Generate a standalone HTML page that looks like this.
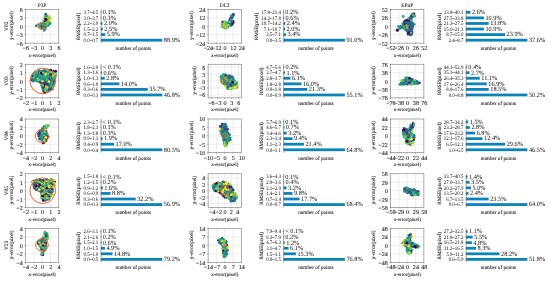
<!DOCTYPE html><html><head><meta charset="utf-8"><style>html,body{margin:0;padding:0;background:#fff;}svg{display:block} text{fill:#111;stroke:#111;stroke-width:0.07px} text.p{stroke-width:0.05px} text.q{stroke:#1a1a1a;stroke-width:0.03px;fill:#1a1a1a}</style></head><body>
<svg width="550" height="281" viewBox="0 0 550 281" font-family="'Liberation Serif', 'Times New Roman', serif" text-rendering="geometricPrecision">
<rect width="550" height="281" fill="#fff" stroke="none"/>
<path d="M33.83 9.4V43.1M25.5 17.83H58.8M42.15 9.4V43.1M25.5 26.25H58.8M50.47 9.4V43.1M25.5 34.68H58.8" stroke="#d9d9d9" stroke-width="0.45" fill="none"/>
<polygon points="43.8,15.71 47.33,15.31 50.08,16.1 51.41,18.06 51.1,21.2 50.63,24.33 48.9,26.29 46.55,27.86 44.98,26.69 43.41,24.33 43.25,20.41" fill="#6ece58"/><circle cx="46.94" cy="22.34" r="0.99" fill="#b5de2b"/><circle cx="47.4" cy="22.68" r="1" fill="#1f9e89"/><circle cx="48.39" cy="25.26" r="0.92" fill="#26828e"/><circle cx="48.91" cy="15.84" r="1.19" fill="#fde725"/><circle cx="48.59" cy="23.04" r="0.81" fill="#1f9e89"/><circle cx="47.56" cy="16.06" r="0.9" fill="#1f9e89"/><circle cx="43.5" cy="21.14" r="1.14" fill="#35b779"/><circle cx="47.49" cy="23.35" r="1.06" fill="#6ece58"/><circle cx="46.99" cy="18.8" r="1.2" fill="#fde725"/><circle cx="50.11" cy="24.2" r="0.89" fill="#35b779"/><circle cx="45.61" cy="16.19" r="0.96" fill="#6ece58"/><circle cx="50.16" cy="20.16" r="1.14" fill="#fde725"/><circle cx="50.68" cy="21.21" r="0.96" fill="#fde725"/><circle cx="43.85" cy="23.21" r="0.91" fill="#b5de2b"/><circle cx="43.97" cy="19.49" r="1.1" fill="#fde725"/><circle cx="44.22" cy="18.41" r="0.82" fill="#26828e"/><circle cx="49.76" cy="17.54" r="0.98" fill="#6ece58"/><circle cx="44.81" cy="24.5" r="1.06" fill="#26828e"/><circle cx="44.21" cy="20.59" r="0.91" fill="#1f9e89"/><circle cx="45.74" cy="26.42" r="0.96" fill="#1f9e89"/><circle cx="50.22" cy="23.37" r="1.2" fill="#26828e"/><circle cx="44.99" cy="18.55" r="0.93" fill="#6ece58"/><circle cx="45.67" cy="16.23" r="1.03" fill="#26828e"/><circle cx="45.24" cy="22.86" r="0.98" fill="#35b779"/><circle cx="47.94" cy="26.19" r="0.86" fill="#1f9e89"/><circle cx="45.29" cy="17.7" r="1.18" fill="#6ece58"/><polygon points="42.63,22.76 45.76,22.76 46.94,26.69 45.76,29.43 43.41,29.04 41.84,26.69" fill="#35b779"/><circle cx="46.34" cy="26.79" r="0.84" fill="#35b779"/><circle cx="43.06" cy="27.46" r="1.13" fill="#1f9e89"/><circle cx="44.88" cy="24.72" r="1.09" fill="#26828e"/><circle cx="44.69" cy="28.45" r="0.91" fill="#35b779"/><circle cx="44.12" cy="23.17" r="0.95" fill="#26828e"/><circle cx="44.76" cy="23.64" r="1.16" fill="#1f9e89"/><circle cx="45.37" cy="26.66" r="0.81" fill="#31688e"/><circle cx="45.42" cy="29.18" r="1.05" fill="#3e4989"/><circle cx="45.76" cy="14.29" r="1.49" fill="#31688e"/><circle cx="45.61" cy="15.86" r="0.94" fill="#26828e"/><circle cx="45.92" cy="19.47" r="1.73" fill="#440154"/><circle cx="44.98" cy="21.04" r="0.94" fill="#482878"/><circle cx="50.86" cy="17.67" r="0.86" fill="#fde725"/><circle cx="50.08" cy="23.55" r="1.1" fill="#1f9e89"/><polygon points="45.29,26.06 44.83,27.78 43.57,29.05 41.84,29.51 40.12,29.05 38.85,27.78 38.39,26.06 38.85,24.33 40.12,23.07 41.84,22.61 43.57,23.07 44.83,24.33" fill="#1f9e89"/><circle cx="41.72" cy="27.65" r="1.2" fill="#26828e"/><circle cx="38.91" cy="26.38" r="1.16" fill="#6ece58"/><circle cx="43.48" cy="27.46" r="1.17" fill="#6ece58"/><circle cx="40.82" cy="27.34" r="1.15" fill="#6ece58"/><circle cx="41.27" cy="28.06" r="1.03" fill="#6ece58"/><circle cx="42.71" cy="25.25" r="1.04" fill="#35b779"/><circle cx="38.95" cy="27.02" r="1.15" fill="#b5de2b"/><circle cx="43.42" cy="25.29" r="1.03" fill="#35b779"/><circle cx="41.43" cy="28.39" r="1.1" fill="#482878"/><circle cx="38.6" cy="26.76" r="0.89" fill="#1f9e89"/><circle cx="43.21" cy="26.04" r="1.17" fill="#35b779"/><circle cx="40.47" cy="27.29" r="0.87" fill="#31688e"/><circle cx="44.64" cy="27.16" r="1.16" fill="#1f9e89"/><circle cx="40.65" cy="27.2" r="0.97" fill="#31688e"/><circle cx="44.47" cy="25.26" r="0.93" fill="#35b779"/><circle cx="39.33" cy="26.03" r="1.14" fill="#6ece58"/><circle cx="40.3" cy="23.78" r="0.91" fill="#1f9e89"/><circle cx="39.87" cy="25.47" r="1" fill="#35b779"/><circle cx="40.57" cy="28.4" r="0.98" fill="#b5de2b"/><circle cx="43.28" cy="26.55" r="1.12" fill="#31688e"/><circle cx="41.69" cy="26.37" r="1.25" fill="#56499a"/><circle cx="36.35" cy="25.67" r="1.18" fill="#3e4989"/><circle cx="37.76" cy="24.33" r="1.02" fill="#35b779"/><circle cx="35.96" cy="26.69" r="0.78" fill="#26828e"/><circle cx="44.2" cy="30.45" r="1.18" fill="#26828e"/><circle cx="45.76" cy="29.04" r="0.94" fill="#35b779"/><circle cx="41.84" cy="25.9" r="3.53" fill="none" stroke="#ee5a22" stroke-width="0.9"/>
<rect x="25.5" y="9.4" width="33.3" height="33.7" fill="none" stroke="#5a5a5a" stroke-width="0.5"/>
<path d="M25.5 43.1v1M25.5 43.1h-1M33.83 43.1v1M25.5 34.67h-1M42.15 43.1v1M25.5 26.25h-1M50.47 43.1v1M25.5 17.82h-1M58.8 43.1v1M25.5 9.4h-1" stroke="#444" stroke-width="0.4"/>
<text x="25.8" y="50" font-size="6.1" text-anchor="middle">−6</text>
<text x="22.8" y="45.55" font-size="6.1" text-anchor="end">−6</text>
<text x="34.12" y="50" font-size="6.1" text-anchor="middle">−3</text>
<text x="22.8" y="37.12" font-size="6.1" text-anchor="end">−3</text>
<text x="42.45" y="50" font-size="6.1" text-anchor="middle">0</text>
<text x="22.8" y="28.7" font-size="6.1" text-anchor="end">0</text>
<text x="50.77" y="50" font-size="6.1" text-anchor="middle">3</text>
<text x="22.8" y="20.27" font-size="6.1" text-anchor="end">3</text>
<text x="59.1" y="50" font-size="6.1" text-anchor="middle">6</text>
<text x="22.8" y="11.85" font-size="6.1" text-anchor="end">6</text>
<text x="42.15" y="56.5" font-size="5" text-anchor="middle">x-error(pixel)</text>
<text transform="translate(13.1 25.65) rotate(-90)" font-size="5.25" text-anchor="middle">y-error(pixel)</text>
<text transform="translate(8 26.25) rotate(-90)" font-size="5.4" text-anchor="middle">V02</text>
<text x="42.15" y="7.2" font-size="5.4" text-anchor="middle">P3P</text>
<rect x="101.1" y="10.93" width="0.15" height="2.79" fill="#0a84bb"/>
<text class="q" x="102.67" y="14.17" font-size="6.5" textLength="13.12" lengthAdjust="spacingAndGlyphs">0.1%</text>
<text class="q" x="83.6" y="14.07" font-size="5.4" textLength="14.7" lengthAdjust="spacingAndGlyphs">3.7–4.5</text>
<path d="M101.1 12.32h-1" stroke="#444" stroke-width="0.4"/>
<rect x="101.1" y="16.5" width="0.21" height="2.79" fill="#0a84bb"/>
<text class="q" x="102.81" y="19.74" font-size="6.5" textLength="13.12" lengthAdjust="spacingAndGlyphs">0.3%</text>
<text class="q" x="83.6" y="19.64" font-size="5.4" textLength="14.7" lengthAdjust="spacingAndGlyphs">3.0–3.7</text>
<path d="M101.1 17.89h-1" stroke="#444" stroke-width="0.4"/>
<rect x="101.1" y="22.07" width="1.38" height="2.79" fill="#0a84bb"/>
<text class="q" x="103.98" y="25.31" font-size="6.5" textLength="13.12" lengthAdjust="spacingAndGlyphs">2.0%</text>
<text class="q" x="83.6" y="25.21" font-size="5.4" textLength="14.7" lengthAdjust="spacingAndGlyphs">2.2–3.0</text>
<path d="M101.1 23.46h-1" stroke="#444" stroke-width="0.4"/>
<rect x="101.1" y="27.64" width="1.72" height="2.79" fill="#0a84bb"/>
<text class="q" x="104.32" y="30.89" font-size="6.5" textLength="13.12" lengthAdjust="spacingAndGlyphs">2.5%</text>
<text class="q" x="83.6" y="30.79" font-size="5.4" textLength="14.7" lengthAdjust="spacingAndGlyphs">1.5–2.2</text>
<path d="M101.1 29.04h-1" stroke="#444" stroke-width="0.4"/>
<rect x="101.1" y="33.21" width="4.06" height="2.79" fill="#0a84bb"/>
<text class="q" x="106.66" y="36.46" font-size="6.5" textLength="13.12" lengthAdjust="spacingAndGlyphs">5.9%</text>
<text class="q" x="83.6" y="36.36" font-size="5.4" textLength="14.7" lengthAdjust="spacingAndGlyphs">0.7–1.5</text>
<path d="M101.1 34.61h-1" stroke="#444" stroke-width="0.4"/>
<rect x="101.1" y="38.78" width="61.2" height="2.79" fill="#0a84bb"/>
<text class="q" x="163.8" y="42.03" font-size="6.5" textLength="16.27" lengthAdjust="spacingAndGlyphs">88.9%</text>
<text class="q" x="83.6" y="41.93" font-size="5.4" textLength="14.7" lengthAdjust="spacingAndGlyphs">0.0–0.7</text>
<path d="M101.1 40.18h-1" stroke="#444" stroke-width="0.4"/>
<path d="M101.1 9.4V43.1" stroke="#444" stroke-width="0.5"/>
<text transform="translate(80.3 26.55) rotate(-90)" font-size="5.1" text-anchor="middle">RMSE(pixel)</text>
<text x="133.3" y="49.9" font-size="5.2" text-anchor="middle">number of points</text>
<path d="M216.42 9.4V43.1M208.1 17.83H241.4M224.75 9.4V43.1M208.1 26.25H241.4M233.07 9.4V43.1M208.1 34.68H241.4" stroke="#d9d9d9" stroke-width="0.45" fill="none"/>
<polygon points="232.03,12.98 234.93,13.84 234.33,16.65 232.37,18.95 230.66,20.91 228.62,20.91 229.64,18.1 231.17,15.29" fill="#26828e"/><circle cx="231.61" cy="18.2" r="0.86" fill="#1f9e89"/><circle cx="230.35" cy="19.41" r="1.04" fill="#1f9e89"/><circle cx="232.14" cy="18.23" r="0.98" fill="#3e4989"/><circle cx="229.64" cy="20.17" r="1.13" fill="#3e4989"/><circle cx="230.74" cy="16.19" r="0.81" fill="#35b779"/><circle cx="229" cy="20.24" r="0.84" fill="#26828e"/><circle cx="232.54" cy="14.28" r="0.82" fill="#1f9e89"/><circle cx="229.7" cy="19.45" r="0.97" fill="#26828e"/><circle cx="232.38" cy="16.76" r="0.81" fill="#26828e"/><circle cx="230.87" cy="15.86" r="1.07" fill="#1f9e89"/><circle cx="230.91" cy="17.04" r="1" fill="#35b779"/><circle cx="231.33" cy="17.1" r="0.97" fill="#31688e"/><circle cx="231.07" cy="19.1" r="1.02" fill="#3e4989"/><circle cx="229.74" cy="18.5" r="0.91" fill="#482878"/><circle cx="230.79" cy="18.03" r="0.98" fill="#482878"/><circle cx="229.67" cy="20.31" r="0.88" fill="#31688e"/><circle cx="233.48" cy="15.69" r="0.8" fill="#31688e"/><circle cx="230.65" cy="19.23" r="1.06" fill="#35b779"/><circle cx="233.48" cy="14.69" r="1.36" fill="#3e4989"/><polygon points="228.62,20.66 233.05,19.8 234.07,22.79 232.88,25.77 230.32,26.88 227.94,24.92" fill="#31688e"/><circle cx="229.34" cy="23.53" r="1.05" fill="#31688e"/><circle cx="233.42" cy="20.95" r="1.15" fill="#3e4989"/><circle cx="231.1" cy="24.73" r="0.89" fill="#1f9e89"/><circle cx="229.68" cy="21.61" r="1.08" fill="#1f9e89"/><circle cx="230.52" cy="21.51" r="1.19" fill="#31688e"/><circle cx="231.37" cy="24.22" r="1.18" fill="#35b779"/><circle cx="232.6" cy="22.76" r="1.16" fill="#26828e"/><circle cx="232.78" cy="23.91" r="0.95" fill="#31688e"/><circle cx="232.45" cy="23.79" r="1.08" fill="#440154"/><circle cx="231.22" cy="25.39" r="0.84" fill="#31688e"/><circle cx="230.1" cy="22.01" r="1.08" fill="#6ece58"/><circle cx="231.26" cy="24.21" r="1.01" fill="#482878"/><circle cx="232.24" cy="22.59" r="0.96" fill="#3e4989"/><circle cx="229.92" cy="24.65" r="0.84" fill="#482878"/><circle cx="229.85" cy="24.73" r="1.06" fill="#1f9e89"/><circle cx="233.67" cy="22.39" r="1" fill="#440154"/><circle cx="230.66" cy="21.07" r="0.94" fill="#1f9e89"/><circle cx="229.4" cy="22.12" r="0.8" fill="#6ece58"/><polygon points="221.29,22.79 222.39,20.66 225.55,20.4 228.36,21.94 228.79,25.35 227.94,28.93 225.8,29.61 222.82,28.58 220.94,26.2" fill="#35b779"/><circle cx="223.77" cy="22.98" r="0.97" fill="#26828e"/><circle cx="224.87" cy="26.83" r="0.99" fill="#26828e"/><circle cx="225.7" cy="28.16" r="0.98" fill="#1f9e89"/><circle cx="227.65" cy="28.06" r="1.02" fill="#26828e"/><circle cx="226.92" cy="24.04" r="1.07" fill="#6ece58"/><circle cx="228.57" cy="25.5" r="0.94" fill="#6ece58"/><circle cx="226.69" cy="23.37" r="0.94" fill="#6ece58"/><circle cx="223.35" cy="21.65" r="1.02" fill="#26828e"/><circle cx="222.92" cy="20.82" r="0.91" fill="#b5de2b"/><circle cx="228.29" cy="25.91" r="1.15" fill="#35b779"/><circle cx="227.98" cy="23.36" r="1.06" fill="#31688e"/><circle cx="227.55" cy="26" r="0.96" fill="#b5de2b"/><circle cx="225.79" cy="22.82" r="0.95" fill="#35b779"/><circle cx="223.96" cy="24.08" r="0.87" fill="#b5de2b"/><circle cx="222.55" cy="22.75" r="1.01" fill="#fde725"/><circle cx="227.8" cy="27.96" r="1.09" fill="#35b779"/><circle cx="223.34" cy="21.66" r="1.13" fill="#b5de2b"/><circle cx="222.23" cy="26.99" r="0.88" fill="#1f9e89"/><circle cx="222.39" cy="23.27" r="1.04" fill="#b5de2b"/><circle cx="221.75" cy="26.71" r="0.98" fill="#6ece58"/><circle cx="225.08" cy="26.4" r="1" fill="#b5de2b"/><circle cx="225.93" cy="24.7" r="0.96" fill="#6ece58"/><circle cx="224.2" cy="25.16" r="0.91" fill="#6ece58"/><circle cx="228.2" cy="24.93" r="1.08" fill="#b5de2b"/><circle cx="228.45" cy="26.68" r="0.96" fill="#35b779"/><circle cx="225.71" cy="27.34" r="0.85" fill="#b5de2b"/><circle cx="221.83" cy="26.71" r="1.19" fill="#6ece58"/><circle cx="224.67" cy="22.3" r="0.97" fill="#b5de2b"/><circle cx="222.39" cy="21.94" r="1.19" fill="#3e4989"/><circle cx="227.08" cy="28.33" r="0.94" fill="#fde725"/><circle cx="224.1" cy="26.2" r="1.36" fill="#f7c04a"/><circle cx="224.1" cy="26.2" r="0.77" fill="#ee6a2f"/>
<rect x="208.1" y="9.4" width="33.3" height="33.7" fill="none" stroke="#5a5a5a" stroke-width="0.5"/>
<path d="M208.1 43.1v1M208.1 43.1h-1M216.42 43.1v1M208.1 34.67h-1M224.75 43.1v1M208.1 26.25h-1M233.07 43.1v1M208.1 17.82h-1M241.4 43.1v1M208.1 9.4h-1" stroke="#444" stroke-width="0.4"/>
<text x="208.4" y="50" font-size="6.1" text-anchor="middle">−24</text>
<text x="205.4" y="45.55" font-size="6.1" text-anchor="end">−24</text>
<text x="216.72" y="50" font-size="6.1" text-anchor="middle">−12</text>
<text x="205.4" y="37.12" font-size="6.1" text-anchor="end">−12</text>
<text x="225.05" y="50" font-size="6.1" text-anchor="middle">0</text>
<text x="205.4" y="28.7" font-size="6.1" text-anchor="end">0</text>
<text x="233.38" y="50" font-size="6.1" text-anchor="middle">12</text>
<text x="205.4" y="20.27" font-size="6.1" text-anchor="end">12</text>
<text x="241.7" y="50" font-size="6.1" text-anchor="middle">24</text>
<text x="205.4" y="11.85" font-size="6.1" text-anchor="end">24</text>
<text x="224.75" y="56.5" font-size="5" text-anchor="middle">x-error(pixel)</text>
<text transform="translate(192.5 25.65) rotate(-90)" font-size="5.25" text-anchor="middle">y-error(pixel)</text>
<text x="224.75" y="7.2" font-size="5.4" text-anchor="middle">DLT</text>
<rect x="283.7" y="10.93" width="0.15" height="2.79" fill="#0a84bb"/>
<text class="q" x="285.33" y="14.17" font-size="6.5" textLength="13.12" lengthAdjust="spacingAndGlyphs">0.2%</text>
<text class="q" x="261.3" y="14.07" font-size="5.4" textLength="19.6" lengthAdjust="spacingAndGlyphs">17.8–21.4</text>
<path d="M283.7 12.32h-1" stroke="#444" stroke-width="0.4"/>
<rect x="283.7" y="16.5" width="0.4" height="2.79" fill="#0a84bb"/>
<text class="q" x="285.6" y="19.74" font-size="6.5" textLength="13.12" lengthAdjust="spacingAndGlyphs">0.6%</text>
<text class="q" x="261.3" y="19.64" font-size="5.4" textLength="19.6" lengthAdjust="spacingAndGlyphs">14.2–17.8</text>
<path d="M283.7 17.89h-1" stroke="#444" stroke-width="0.4"/>
<rect x="283.7" y="22.07" width="1.61" height="2.79" fill="#0a84bb"/>
<text class="q" x="286.81" y="25.31" font-size="6.5" textLength="13.12" lengthAdjust="spacingAndGlyphs">2.4%</text>
<text class="q" x="261.3" y="25.21" font-size="5.4" textLength="19.6" lengthAdjust="spacingAndGlyphs">10.7–14.2</text>
<path d="M283.7 23.46h-1" stroke="#444" stroke-width="0.4"/>
<rect x="283.7" y="27.64" width="1.35" height="2.79" fill="#0a84bb"/>
<text class="q" x="286.55" y="30.89" font-size="6.5" textLength="13.12" lengthAdjust="spacingAndGlyphs">2.0%</text>
<text class="q" x="263.75" y="30.79" font-size="5.4" textLength="17.15" lengthAdjust="spacingAndGlyphs">7.1–10.7</text>
<path d="M283.7 29.04h-1" stroke="#444" stroke-width="0.4"/>
<rect x="283.7" y="33.21" width="2.29" height="2.79" fill="#0a84bb"/>
<text class="q" x="287.49" y="36.46" font-size="6.5" textLength="13.12" lengthAdjust="spacingAndGlyphs">3.4%</text>
<text class="q" x="266.2" y="36.36" font-size="5.4" textLength="14.7" lengthAdjust="spacingAndGlyphs">3.5–7.1</text>
<path d="M283.7 34.61h-1" stroke="#444" stroke-width="0.4"/>
<rect x="283.7" y="38.78" width="61.2" height="2.79" fill="#0a84bb"/>
<text class="q" x="346.4" y="42.03" font-size="6.5" textLength="16.27" lengthAdjust="spacingAndGlyphs">91.0%</text>
<text class="q" x="266.2" y="41.93" font-size="5.4" textLength="14.7" lengthAdjust="spacingAndGlyphs">0.0–3.5</text>
<path d="M283.7 40.18h-1" stroke="#444" stroke-width="0.4"/>
<path d="M283.7 9.4V43.1" stroke="#444" stroke-width="0.5"/>
<text transform="translate(258 26.55) rotate(-90)" font-size="5.1" text-anchor="middle">RMSE(pixel)</text>
<text x="315.9" y="49.9" font-size="5.2" text-anchor="middle">number of points</text>
<path d="M398.93 9.4V43.1M390.6 17.83H423.9M407.25 9.4V43.1M390.6 26.25H423.9M415.58 9.4V43.1M390.6 34.68H423.9" stroke="#d9d9d9" stroke-width="0.45" fill="none"/>
<polygon points="406,20.5 412.3,12.6 415.3,13.3 415,16.2 409.5,22" fill="#26828e"/><circle cx="408.41" cy="19.04" r="1.14" fill="#35b779"/><circle cx="412.83" cy="13.82" r="0.89" fill="#1f9e89"/><circle cx="407.36" cy="20.79" r="1.12" fill="#6ece58"/><circle cx="408.39" cy="20.59" r="1.1" fill="#26828e"/><circle cx="411.25" cy="16.64" r="0.97" fill="#31688e"/><circle cx="411.15" cy="19.64" r="1.07" fill="#482878"/><circle cx="411.63" cy="16.32" r="1" fill="#482878"/><circle cx="414.87" cy="16.26" r="1.17" fill="#35b779"/><circle cx="411.94" cy="14.1" r="1.15" fill="#26828e"/><circle cx="407.89" cy="20.62" r="1.09" fill="#26828e"/><circle cx="414" cy="13.8" r="1.3" fill="#3e4989"/><circle cx="413" cy="14.8" r="0.8" fill="#fde725"/><circle cx="403.2" cy="16.4" r="1.35" fill="#1f9e89"/><polygon points="403.5,20 408,19 412,20.5 414.5,24 413.5,29 412.5,32.5 410,33.5 406.5,32 403,29 402.5,24" fill="#31688e"/><circle cx="409.74" cy="29.48" r="1.11" fill="#3e4989"/><circle cx="409.47" cy="27.57" r="1.16" fill="#31688e"/><circle cx="406.6" cy="23.28" r="1.14" fill="#3e4989"/><circle cx="403.85" cy="22.27" r="1.12" fill="#440154"/><circle cx="409.17" cy="26.88" r="1.02" fill="#440154"/><circle cx="406.62" cy="20.34" r="1.3" fill="#440154"/><circle cx="403.96" cy="23.37" r="1.1" fill="#3e4989"/><circle cx="403.43" cy="25.81" r="1.22" fill="#31688e"/><circle cx="402.57" cy="23.85" r="1.28" fill="#1f9e89"/><circle cx="408.7" cy="25.88" r="0.95" fill="#35b779"/><circle cx="402.88" cy="26.27" r="1.17" fill="#b5de2b"/><circle cx="405.6" cy="28.92" r="0.93" fill="#6ece58"/><circle cx="409.56" cy="24.16" r="0.94" fill="#3e4989"/><circle cx="404.95" cy="24.09" r="1" fill="#440154"/><circle cx="411.79" cy="21.76" r="1.08" fill="#1f9e89"/><circle cx="406.49" cy="23.2" r="0.87" fill="#26828e"/><circle cx="412.38" cy="22.16" r="0.99" fill="#31688e"/><circle cx="406.83" cy="25.41" r="1.29" fill="#6ece58"/><circle cx="403.02" cy="26.76" r="1.2" fill="#482878"/><circle cx="409.04" cy="20.82" r="0.92" fill="#440154"/><circle cx="408.25" cy="24.39" r="1.2" fill="#31688e"/><circle cx="405.07" cy="29.42" r="1.27" fill="#35b779"/><circle cx="408.74" cy="32.35" r="1.09" fill="#26828e"/><circle cx="409.95" cy="31.18" r="0.86" fill="#b5de2b"/><circle cx="404.15" cy="26.74" r="1.07" fill="#6ece58"/><circle cx="406.07" cy="20.26" r="0.82" fill="#440154"/><circle cx="411.22" cy="20.55" r="1.23" fill="#35b779"/><circle cx="407.59" cy="28.02" r="1.16" fill="#6ece58"/><circle cx="405.99" cy="30.05" r="0.95" fill="#482878"/><circle cx="405.71" cy="30.38" r="0.8" fill="#26828e"/><polygon points="398,26 403,25 403.5,28.5 399,30" fill="#26828e"/><circle cx="398.16" cy="26.3" r="1.08" fill="#26828e"/><circle cx="399.36" cy="29.25" r="0.92" fill="#35b779"/><circle cx="400.66" cy="26.31" r="1.07" fill="#26828e"/><circle cx="400.95" cy="25.97" r="0.94" fill="#26828e"/><circle cx="399.3" cy="27" r="1.5" fill="#1f9e89"/><circle cx="397.4" cy="30.2" r="1.6" fill="#440154"/><polygon points="406.5,31 412.5,30.5 413,34.5 411,36.2 407.5,35" fill="#482878"/><circle cx="407.74" cy="33.77" r="1.13" fill="#440154"/><circle cx="407.66" cy="31.09" r="0.92" fill="#31688e"/><circle cx="412.25" cy="33.33" r="1.13" fill="#3e4989"/><circle cx="407.89" cy="34.75" r="0.97" fill="#26828e"/><circle cx="412.1" cy="31.32" r="0.86" fill="#35b779"/><circle cx="412.52" cy="31.97" r="1.04" fill="#3e4989"/><circle cx="408.08" cy="33.52" r="0.98" fill="#440154"/><circle cx="411.44" cy="32.44" r="0.82" fill="#482878"/><circle cx="411.05" cy="32.93" r="1.1" fill="#6ece58"/><circle cx="411.9" cy="34.38" r="1.07" fill="#26828e"/><circle cx="414.2" cy="24.2" r="1.2" fill="#26828e"/><circle cx="407.1" cy="26.1" r="1.1" fill="#f5a03a"/><circle cx="407.1" cy="26.1" r="0.65" fill="#ea4a2a"/>
<rect x="390.6" y="9.4" width="33.3" height="33.7" fill="none" stroke="#5a5a5a" stroke-width="0.5"/>
<path d="M390.6 43.1v1M390.6 43.1h-1M398.93 43.1v1M390.6 34.67h-1M407.25 43.1v1M390.6 26.25h-1M415.58 43.1v1M390.6 17.82h-1M423.9 43.1v1M390.6 9.4h-1" stroke="#444" stroke-width="0.4"/>
<text x="390.9" y="50" font-size="6.1" text-anchor="middle">−52</text>
<text x="387.9" y="45.55" font-size="6.1" text-anchor="end">−52</text>
<text x="399.23" y="50" font-size="6.1" text-anchor="middle">−26</text>
<text x="387.9" y="37.12" font-size="6.1" text-anchor="end">−26</text>
<text x="407.55" y="50" font-size="6.1" text-anchor="middle">0</text>
<text x="387.9" y="28.7" font-size="6.1" text-anchor="end">0</text>
<text x="415.88" y="50" font-size="6.1" text-anchor="middle">26</text>
<text x="387.9" y="20.27" font-size="6.1" text-anchor="end">26</text>
<text x="424.2" y="50" font-size="6.1" text-anchor="middle">52</text>
<text x="387.9" y="11.85" font-size="6.1" text-anchor="end">52</text>
<text x="407.25" y="56.5" font-size="5" text-anchor="middle">x-error(pixel)</text>
<text transform="translate(375 25.65) rotate(-90)" font-size="5.25" text-anchor="middle">y-error(pixel)</text>
<text x="407.25" y="7.2" font-size="5.4" text-anchor="middle">EPnP</text>
<rect x="466.2" y="10.93" width="4.23" height="2.79" fill="#0a84bb"/>
<text class="q" x="471.93" y="14.17" font-size="6.5" textLength="13.12" lengthAdjust="spacingAndGlyphs">2.6%</text>
<text class="q" x="443.8" y="14.07" font-size="5.4" textLength="19.6" lengthAdjust="spacingAndGlyphs">33.8–40.1</text>
<path d="M466.2 12.32h-1" stroke="#444" stroke-width="0.4"/>
<rect x="466.2" y="16.5" width="17.74" height="2.79" fill="#0a84bb"/>
<text class="q" x="485.44" y="19.74" font-size="6.5" textLength="16.27" lengthAdjust="spacingAndGlyphs">10.9%</text>
<text class="q" x="443.8" y="19.64" font-size="5.4" textLength="19.6" lengthAdjust="spacingAndGlyphs">27.5–33.8</text>
<path d="M466.2 17.89h-1" stroke="#444" stroke-width="0.4"/>
<rect x="466.2" y="22.07" width="22.46" height="2.79" fill="#0a84bb"/>
<text class="q" x="490.16" y="25.31" font-size="6.5" textLength="16.27" lengthAdjust="spacingAndGlyphs">13.8%</text>
<text class="q" x="443.8" y="25.21" font-size="5.4" textLength="19.6" lengthAdjust="spacingAndGlyphs">21.3–27.5</text>
<path d="M466.2 23.46h-1" stroke="#444" stroke-width="0.4"/>
<rect x="466.2" y="27.64" width="17.74" height="2.79" fill="#0a84bb"/>
<text class="q" x="485.44" y="30.89" font-size="6.5" textLength="16.27" lengthAdjust="spacingAndGlyphs">10.9%</text>
<text class="q" x="443.8" y="30.79" font-size="5.4" textLength="19.6" lengthAdjust="spacingAndGlyphs">15.0–21.3</text>
<path d="M466.2 29.04h-1" stroke="#444" stroke-width="0.4"/>
<rect x="466.2" y="33.21" width="38.9" height="2.79" fill="#0a84bb"/>
<text class="q" x="506.6" y="36.46" font-size="6.5" textLength="16.27" lengthAdjust="spacingAndGlyphs">23.9%</text>
<text class="q" x="446.25" y="36.36" font-size="5.4" textLength="17.15" lengthAdjust="spacingAndGlyphs">8.7–15.0</text>
<path d="M466.2 34.61h-1" stroke="#444" stroke-width="0.4"/>
<rect x="466.2" y="38.78" width="61.2" height="2.79" fill="#0a84bb"/>
<text class="q" x="528.9" y="42.03" font-size="6.5" textLength="16.27" lengthAdjust="spacingAndGlyphs">37.6%</text>
<text class="q" x="448.7" y="41.93" font-size="5.4" textLength="14.7" lengthAdjust="spacingAndGlyphs">2.4–8.7</text>
<path d="M466.2 40.18h-1" stroke="#444" stroke-width="0.4"/>
<path d="M466.2 9.4V43.1" stroke="#444" stroke-width="0.5"/>
<text transform="translate(440.5 26.55) rotate(-90)" font-size="5.1" text-anchor="middle">RMSE(pixel)</text>
<text x="498.4" y="49.9" font-size="5.2" text-anchor="middle">number of points</text>
<path d="M33.83 64.2V97.9M25.5 72.62H58.8M42.15 64.2V97.9M25.5 81.05H58.8M50.47 64.2V97.9M25.5 89.48H58.8" stroke="#d9d9d9" stroke-width="0.45" fill="none"/>
<polygon points="31.69,74.54 34.26,71.33 39.38,70.05 45.79,70.05 49.64,69.41 55.41,70.69 56.69,73.26 56.05,77.1 54.77,80.95 54.13,85.44 52.85,89.92 49,91.85 45.15,93.13 41.95,91.21 41.31,86.08 40.67,83.51 36.82,82.23 31.69,80.95 31.05,78.38" fill="#1f9e89"/><circle cx="47.33" cy="80.77" r="1.4" fill="#31688e"/><circle cx="51.77" cy="81.56" r="1.12" fill="#1f9e89"/><circle cx="31.13" cy="78.21" r="1.03" fill="#35b779"/><circle cx="51.4" cy="74.92" r="1.02" fill="#31688e"/><circle cx="53.49" cy="84.02" r="1.16" fill="#482878"/><circle cx="43.81" cy="72.16" r="1.18" fill="#fde725"/><circle cx="42.67" cy="82.5" r="1.24" fill="#26828e"/><circle cx="53.25" cy="74.98" r="1.1" fill="#b5de2b"/><circle cx="50.4" cy="87.5" r="1.36" fill="#35b779"/><circle cx="34.19" cy="80.71" r="1.1" fill="#b5de2b"/><circle cx="41.55" cy="78.07" r="1.19" fill="#1f9e89"/><circle cx="43.77" cy="81.07" r="1.37" fill="#35b779"/><circle cx="45.32" cy="84.18" r="1.09" fill="#31688e"/><circle cx="38.91" cy="71.86" r="1.41" fill="#482878"/><circle cx="50.97" cy="78.3" r="1.34" fill="#6ece58"/><circle cx="53.7" cy="81.05" r="1.12" fill="#26828e"/><circle cx="53.52" cy="73.26" r="1.4" fill="#482878"/><circle cx="50.9" cy="80.87" r="1.03" fill="#b5de2b"/><circle cx="37.67" cy="76.29" r="1.09" fill="#1f9e89"/><circle cx="32.83" cy="77.43" r="1.49" fill="#b5de2b"/><circle cx="50.18" cy="80.77" r="1.48" fill="#31688e"/><circle cx="44.53" cy="86.69" r="1.11" fill="#482878"/><circle cx="52.55" cy="88.27" r="1.3" fill="#b5de2b"/><circle cx="41.98" cy="83.19" r="1.15" fill="#b5de2b"/><circle cx="44.75" cy="75.96" r="1.01" fill="#6ece58"/><circle cx="47.56" cy="89.61" r="1.13" fill="#35b779"/><circle cx="54.27" cy="72.58" r="1.05" fill="#3e4989"/><circle cx="31.7" cy="80.01" r="1.43" fill="#3e4989"/><circle cx="47.85" cy="72.41" r="1.16" fill="#35b779"/><circle cx="43.71" cy="74.62" r="1.09" fill="#31688e"/><circle cx="45.15" cy="70.51" r="1.44" fill="#6ece58"/><circle cx="50.9" cy="88.16" r="1.23" fill="#440154"/><circle cx="39.09" cy="70.4" r="1.15" fill="#26828e"/><circle cx="54.15" cy="76.41" r="1.27" fill="#1f9e89"/><circle cx="55.36" cy="71.75" r="1.25" fill="#35b779"/><circle cx="44.53" cy="82.71" r="1.41" fill="#482878"/><circle cx="50.54" cy="80.04" r="1.01" fill="#35b779"/><circle cx="47.58" cy="79.91" r="1.19" fill="#1f9e89"/><circle cx="41.35" cy="74.76" r="1.22" fill="#482878"/><circle cx="52.01" cy="86.58" r="1.12" fill="#1f9e89"/><circle cx="40.93" cy="80.96" r="1.48" fill="#35b779"/><circle cx="33.24" cy="80.79" r="1.36" fill="#1f9e89"/><circle cx="47.12" cy="87.4" r="1.43" fill="#6ece58"/><circle cx="48.98" cy="85.61" r="1.46" fill="#31688e"/><circle cx="40.95" cy="83.99" r="1.48" fill="#b5de2b"/><circle cx="39.07" cy="76.8" r="1.07" fill="#26828e"/><circle cx="45.24" cy="71.3" r="1.47" fill="#26828e"/><circle cx="50.09" cy="80.38" r="1.48" fill="#3e4989"/><circle cx="49.1" cy="74.29" r="1.32" fill="#26828e"/><circle cx="48.53" cy="75.6" r="1.16" fill="#fde725"/><circle cx="38.16" cy="78.4" r="1.23" fill="#fde725"/><circle cx="42.25" cy="84.05" r="1.09" fill="#31688e"/><circle cx="40.91" cy="75.87" r="1.48" fill="#31688e"/><circle cx="49.01" cy="75.11" r="1.27" fill="#440154"/><circle cx="33.47" cy="76.74" r="1.45" fill="#1f9e89"/><circle cx="40.54" cy="72.61" r="1.41" fill="#b5de2b"/><circle cx="44.63" cy="70.58" r="1.2" fill="#31688e"/><circle cx="45.2" cy="74.75" r="1.42" fill="#b5de2b"/><circle cx="50.2" cy="87.42" r="1.03" fill="#31688e"/><circle cx="51.95" cy="83.8" r="1.24" fill="#35b779"/><circle cx="51.57" cy="77.43" r="1.18" fill="#31688e"/><circle cx="53.88" cy="71.09" r="1.26" fill="#482878"/><circle cx="48.44" cy="73.91" r="1.03" fill="#31688e"/><circle cx="48.51" cy="84.9" r="1.05" fill="#3e4989"/><circle cx="41.52" cy="85.8" r="1.26" fill="#6ece58"/><circle cx="40.08" cy="82.04" r="1.09" fill="#35b779"/><circle cx="49.25" cy="81.12" r="1.43" fill="#3e4989"/><circle cx="48.47" cy="74.56" r="1.45" fill="#6ece58"/><circle cx="44.72" cy="90.96" r="1.2" fill="#fde725"/><circle cx="46.62" cy="87.33" r="1.08" fill="#6ece58"/><circle cx="53.66" cy="74.32" r="1.28" fill="#fde725"/><circle cx="50.94" cy="86.96" r="1.18" fill="#b5de2b"/><circle cx="33.17" cy="79.03" r="1.27" fill="#31688e"/><circle cx="51.95" cy="78" r="1.01" fill="#3e4989"/><circle cx="41.9" cy="83.18" r="1.33" fill="#440154"/><circle cx="36.46" cy="71.95" r="1.26" fill="#fde725"/><circle cx="54" cy="81.6" r="1.12" fill="#3e4989"/><circle cx="41.93" cy="84.61" r="1.38" fill="#6ece58"/><circle cx="47.74" cy="75.41" r="1.19" fill="#1f9e89"/><circle cx="43.6" cy="75.71" r="1.23" fill="#35b779"/><circle cx="46.09" cy="88.45" r="1.37" fill="#6ece58"/><circle cx="48.09" cy="83.2" r="1.5" fill="#35b779"/><circle cx="36.1" cy="74.8" r="1.41" fill="#6ece58"/><circle cx="43.43" cy="70.71" r="1.41" fill="#26828e"/><circle cx="43.87" cy="80.36" r="1.31" fill="#26828e"/><circle cx="46.4" cy="85.85" r="1.38" fill="#b5de2b"/><circle cx="40.66" cy="75.35" r="1.4" fill="#b5de2b"/><circle cx="54.85" cy="74.13" r="1.45" fill="#b5de2b"/><circle cx="33.03" cy="76.71" r="1.07" fill="#35b779"/><circle cx="52.36" cy="75.69" r="1.15" fill="#6ece58"/><circle cx="36.65" cy="74.32" r="1.36" fill="#1f9e89"/><circle cx="40.49" cy="73.99" r="1.03" fill="#3e4989"/><circle cx="48.91" cy="79.22" r="1.44" fill="#3e4989"/><circle cx="47.84" cy="69.91" r="1.3" fill="#6ece58"/><circle cx="42.43" cy="81.28" r="1.19" fill="#fde725"/><circle cx="47.36" cy="84.49" r="1.17" fill="#26828e"/><circle cx="50.41" cy="84.49" r="1.26" fill="#1f9e89"/><circle cx="42.72" cy="74.66" r="1.29" fill="#35b779"/><circle cx="33.28" cy="81.03" r="1.4" fill="#31688e"/><circle cx="39.43" cy="77.2" r="1.02" fill="#31688e"/><circle cx="35.84" cy="73.01" r="1.42" fill="#35b779"/><circle cx="36.72" cy="72.06" r="1.06" fill="#35b779"/><circle cx="44.86" cy="71.43" r="1.3" fill="#31688e"/><circle cx="33.52" cy="74.24" r="1.41" fill="#35b779"/><circle cx="44.4" cy="85.15" r="1.15" fill="#440154"/><circle cx="45.91" cy="73.73" r="1.04" fill="#fde725"/><circle cx="49.51" cy="82" r="1.17" fill="#3e4989"/><circle cx="48.08" cy="84.97" r="1.4" fill="#26828e"/><circle cx="32.42" cy="76.22" r="1.16" fill="#482878"/><circle cx="51.38" cy="87.28" r="1.15" fill="#3e4989"/><circle cx="42.4" cy="74.9" r="1.43" fill="#26828e"/><circle cx="41.95" cy="85.8" r="1.24" fill="#35b779"/><circle cx="45.32" cy="78.04" r="1.25" fill="#31688e"/><circle cx="38.86" cy="77.24" r="1.46" fill="#31688e"/><circle cx="41.96" cy="74.16" r="1.11" fill="#482878"/><circle cx="53.32" cy="77.4" r="1.12" fill="#6ece58"/><circle cx="47.73" cy="80.09" r="1.26" fill="#6ece58"/><circle cx="40.68" cy="76.05" r="1.42" fill="#35b779"/><circle cx="48.78" cy="80.8" r="1.45" fill="#26828e"/><circle cx="52.75" cy="72.87" r="1.39" fill="#6ece58"/><circle cx="53.59" cy="75.25" r="1.16" fill="#fde725"/><circle cx="35.34" cy="78.79" r="1.14" fill="#35b779"/><circle cx="46.76" cy="87.05" r="1.44" fill="#b5de2b"/><circle cx="49.04" cy="81.6" r="1.33" fill="#fde725"/><circle cx="42.09" cy="85.16" r="1.06" fill="#26828e"/><circle cx="40.96" cy="72.66" r="1.05" fill="#440154"/><circle cx="42.7" cy="87.52" r="1.32" fill="#482878"/><circle cx="38.64" cy="79.99" r="1.21" fill="#6ece58"/><circle cx="34.02" cy="77.69" r="1.42" fill="#6ece58"/><circle cx="56.16" cy="75.51" r="1.16" fill="#35b779"/><circle cx="49.05" cy="89.48" r="1.17" fill="#3e4989"/><circle cx="55.06" cy="77.77" r="1.41" fill="#35b779"/><circle cx="35.33" cy="77.61" r="1.01" fill="#31688e"/><circle cx="51.64" cy="73.53" r="1.28" fill="#35b779"/><circle cx="52.83" cy="89.5" r="1.08" fill="#35b779"/><circle cx="50.56" cy="71.72" r="1.15" fill="#fde725"/><circle cx="37.53" cy="74.55" r="1.4" fill="#26828e"/><circle cx="52.97" cy="87.11" r="1.12" fill="#6ece58"/><circle cx="39.29" cy="76.63" r="1.44" fill="#1f9e89"/><circle cx="42.87" cy="85.84" r="1.09" fill="#b5de2b"/><circle cx="43.53" cy="90.97" r="1.27" fill="#31688e"/><circle cx="49.58" cy="70.15" r="1.07" fill="#26828e"/><circle cx="47.35" cy="84.35" r="1.48" fill="#482878"/><circle cx="45.77" cy="78.03" r="1.2" fill="#35b779"/><circle cx="42.35" cy="87.19" r="1.15" fill="#31688e"/><circle cx="50.63" cy="74.75" r="1.46" fill="#482878"/><circle cx="35.14" cy="79.16" r="1.13" fill="#26828e"/><circle cx="40.09" cy="82.15" r="1.27" fill="#3e4989"/><circle cx="36.23" cy="75.11" r="1.15" fill="#26828e"/><circle cx="52.51" cy="85.02" r="1.39" fill="#1f9e89"/><circle cx="50.92" cy="70.05" r="1.28" fill="#440154"/><circle cx="55.79" cy="71.33" r="1.28" fill="#440154"/><circle cx="44.51" cy="92.74" r="1.28" fill="#440154"/><circle cx="42.85" cy="80.95" r="12.82" fill="none" stroke="#ee5a22" stroke-width="0.95"/>
<rect x="25.5" y="64.2" width="33.3" height="33.7" fill="none" stroke="#5a5a5a" stroke-width="0.5"/>
<path d="M25.5 97.9v1M25.5 97.9h-1M33.83 97.9v1M25.5 89.48h-1M42.15 97.9v1M25.5 81.05h-1M50.47 97.9v1M25.5 72.62h-1M58.8 97.9v1M25.5 64.2h-1" stroke="#444" stroke-width="0.4"/>
<text x="25.8" y="104.8" font-size="6.1" text-anchor="middle">−2</text>
<text x="22.8" y="100.35" font-size="6.1" text-anchor="end">−2</text>
<text x="34.12" y="104.8" font-size="6.1" text-anchor="middle">−1</text>
<text x="22.8" y="91.93" font-size="6.1" text-anchor="end">−1</text>
<text x="42.45" y="104.8" font-size="6.1" text-anchor="middle">0</text>
<text x="22.8" y="83.5" font-size="6.1" text-anchor="end">0</text>
<text x="50.77" y="104.8" font-size="6.1" text-anchor="middle">1</text>
<text x="22.8" y="75.08" font-size="6.1" text-anchor="end">1</text>
<text x="59.1" y="104.8" font-size="6.1" text-anchor="middle">2</text>
<text x="22.8" y="66.65" font-size="6.1" text-anchor="end">2</text>
<text x="42.15" y="111.3" font-size="5" text-anchor="middle">x-error(pixel)</text>
<text transform="translate(13.1 80.45) rotate(-90)" font-size="5.25" text-anchor="middle">y-error(pixel)</text>
<text transform="translate(8 81.05) rotate(-90)" font-size="5.4" text-anchor="middle">V03</text>
<rect x="101.1" y="65.73" width="0.15" height="2.79" fill="#0a84bb"/>
<text class="q" x="102.63" y="68.97" font-size="6.5" textLength="18.25" lengthAdjust="spacingAndGlyphs">< 0.1%</text>
<text class="q" x="83.6" y="68.87" font-size="5.4" textLength="14.7" lengthAdjust="spacingAndGlyphs">1.6–2.0</text>
<path d="M101.1 67.12h-1" stroke="#444" stroke-width="0.4"/>
<rect x="101.1" y="71.3" width="0.78" height="2.79" fill="#0a84bb"/>
<text class="q" x="103.38" y="74.54" font-size="6.5" textLength="13.12" lengthAdjust="spacingAndGlyphs">0.6%</text>
<text class="q" x="83.6" y="74.44" font-size="5.4" textLength="14.7" lengthAdjust="spacingAndGlyphs">1.3–1.6</text>
<path d="M101.1 72.69h-1" stroke="#444" stroke-width="0.4"/>
<rect x="101.1" y="76.87" width="3.66" height="2.79" fill="#0a84bb"/>
<text class="q" x="106.26" y="80.11" font-size="6.5" textLength="13.12" lengthAdjust="spacingAndGlyphs">2.8%</text>
<text class="q" x="83.6" y="80.01" font-size="5.4" textLength="14.7" lengthAdjust="spacingAndGlyphs">1.0–1.3</text>
<path d="M101.1 78.26h-1" stroke="#444" stroke-width="0.4"/>
<rect x="101.1" y="82.44" width="18.31" height="2.79" fill="#0a84bb"/>
<text class="q" x="120.91" y="85.69" font-size="6.5" textLength="16.27" lengthAdjust="spacingAndGlyphs">14.0%</text>
<text class="q" x="83.6" y="85.59" font-size="5.4" textLength="14.7" lengthAdjust="spacingAndGlyphs">0.6–1.0</text>
<path d="M101.1 83.84h-1" stroke="#444" stroke-width="0.4"/>
<rect x="101.1" y="88.01" width="46.68" height="2.79" fill="#0a84bb"/>
<text class="q" x="149.28" y="91.26" font-size="6.5" textLength="16.27" lengthAdjust="spacingAndGlyphs">35.7%</text>
<text class="q" x="83.6" y="91.16" font-size="5.4" textLength="14.7" lengthAdjust="spacingAndGlyphs">0.3–0.6</text>
<path d="M101.1 89.41h-1" stroke="#444" stroke-width="0.4"/>
<rect x="101.1" y="93.58" width="61.2" height="2.79" fill="#0a84bb"/>
<text class="q" x="163.8" y="96.83" font-size="6.5" textLength="16.27" lengthAdjust="spacingAndGlyphs">46.8%</text>
<text class="q" x="83.6" y="96.73" font-size="5.4" textLength="14.7" lengthAdjust="spacingAndGlyphs">0.0–0.3</text>
<path d="M101.1 94.98h-1" stroke="#444" stroke-width="0.4"/>
<path d="M101.1 64.2V97.9" stroke="#444" stroke-width="0.5"/>
<text transform="translate(80.3 81.35) rotate(-90)" font-size="5.1" text-anchor="middle">RMSE(pixel)</text>
<text x="133.3" y="104.7" font-size="5.2" text-anchor="middle">number of points</text>
<path d="M211.07 64.2V97.9M208.1 67.2H241.4M217.91 64.2V97.9M208.1 74.13H241.4M224.75 64.2V97.9M208.1 81.05H241.4M231.59 64.2V97.9M208.1 87.97H241.4M238.43 64.2V97.9M208.1 94.9H241.4" stroke="#d9d9d9" stroke-width="0.45" fill="none"/>
<polygon points="220.46,75.82 222.38,74.28 226.23,73.9 230.72,74.79 233.92,77.1 235.85,80.95 237.13,84.79 238.41,86.72 237.13,88.64 233.28,89.28 229.44,89.92 226.87,89.28 224.95,86.08 221.1,83.51 219.82,79.67" fill="#1f9e89"/><circle cx="223.25" cy="75.83" r="1.17" fill="#35b779"/><circle cx="231" cy="88.83" r="1.46" fill="#6ece58"/><circle cx="236.2" cy="83.35" r="1.1" fill="#26828e"/><circle cx="235.62" cy="83.24" r="1.39" fill="#b5de2b"/><circle cx="232.8" cy="83.71" r="1.48" fill="#26828e"/><circle cx="225.63" cy="86.42" r="1.33" fill="#fde725"/><circle cx="232.23" cy="76.86" r="1.27" fill="#482878"/><circle cx="229.23" cy="82.19" r="1.33" fill="#1f9e89"/><circle cx="226.77" cy="83.23" r="1.3" fill="#26828e"/><circle cx="229.92" cy="80.84" r="1.26" fill="#6ece58"/><circle cx="226.43" cy="80.82" r="1.46" fill="#1f9e89"/><circle cx="227.27" cy="75.44" r="1.09" fill="#b5de2b"/><circle cx="229.98" cy="79.49" r="1.18" fill="#26828e"/><circle cx="223.38" cy="74.49" r="1.4" fill="#35b779"/><circle cx="231.85" cy="77.13" r="1.03" fill="#6ece58"/><circle cx="227.46" cy="87.17" r="1.23" fill="#b5de2b"/><circle cx="235.56" cy="81.89" r="1.29" fill="#35b779"/><circle cx="228.61" cy="85.55" r="1.18" fill="#35b779"/><circle cx="234.4" cy="87.04" r="1.47" fill="#35b779"/><circle cx="231.62" cy="79.36" r="1.35" fill="#31688e"/><circle cx="227.9" cy="78.21" r="1.48" fill="#482878"/><circle cx="226.37" cy="75.79" r="1.13" fill="#31688e"/><circle cx="224.96" cy="75.46" r="1.1" fill="#1f9e89"/><circle cx="226.22" cy="85.67" r="1.42" fill="#b5de2b"/><circle cx="220.53" cy="79.95" r="1.02" fill="#b5de2b"/><circle cx="223.6" cy="81.75" r="1.38" fill="#1f9e89"/><circle cx="233.17" cy="81.34" r="1.12" fill="#26828e"/><circle cx="224.77" cy="74.94" r="1.08" fill="#35b779"/><circle cx="236.35" cy="84.25" r="1.25" fill="#482878"/><circle cx="229.76" cy="76.14" r="1.43" fill="#26828e"/><circle cx="226.88" cy="84.16" r="1.4" fill="#31688e"/><circle cx="236.42" cy="82.73" r="1.42" fill="#26828e"/><circle cx="229.35" cy="76.92" r="1.08" fill="#26828e"/><circle cx="235.41" cy="82.07" r="1.41" fill="#6ece58"/><circle cx="227.36" cy="87.91" r="1.19" fill="#6ece58"/><circle cx="232.01" cy="77.02" r="1.03" fill="#31688e"/><circle cx="226.88" cy="77.68" r="1.48" fill="#1f9e89"/><circle cx="222.66" cy="82.83" r="1.3" fill="#b5de2b"/><circle cx="229.62" cy="86.2" r="1.47" fill="#440154"/><circle cx="232.58" cy="86.82" r="1.05" fill="#6ece58"/><circle cx="221.06" cy="76.76" r="1.47" fill="#1f9e89"/><circle cx="231.39" cy="85.75" r="1.49" fill="#26828e"/><circle cx="237.33" cy="85.55" r="1.4" fill="#b5de2b"/><circle cx="231.95" cy="79.05" r="1.12" fill="#26828e"/><circle cx="225.37" cy="74.28" r="1.05" fill="#26828e"/><circle cx="228.1" cy="79.22" r="1.24" fill="#31688e"/><circle cx="227.53" cy="79.57" r="1.15" fill="#6ece58"/><circle cx="229.88" cy="87.97" r="1.19" fill="#fde725"/><circle cx="229.38" cy="77.38" r="1.12" fill="#31688e"/><circle cx="225.59" cy="76.12" r="1.5" fill="#482878"/><circle cx="228.76" cy="86.74" r="1.03" fill="#1f9e89"/><circle cx="226.13" cy="80" r="1.29" fill="#b5de2b"/><circle cx="228.35" cy="84" r="1.34" fill="#482878"/><circle cx="234.84" cy="84.65" r="1.14" fill="#26828e"/><circle cx="222.69" cy="81.16" r="1.11" fill="#6ece58"/><circle cx="228.6" cy="84.09" r="1.01" fill="#35b779"/><circle cx="225.46" cy="77.73" r="1.47" fill="#6ece58"/><circle cx="226.09" cy="80.28" r="1.09" fill="#35b779"/><circle cx="227.37" cy="88.6" r="1.41" fill="#35b779"/><circle cx="229.67" cy="84.83" r="1.3" fill="#35b779"/><circle cx="224.28" cy="82.77" r="1.4" fill="#26828e"/><circle cx="230.61" cy="77.55" r="1.06" fill="#1f9e89"/><circle cx="231.07" cy="78.83" r="1.06" fill="#6ece58"/><circle cx="232.47" cy="85.34" r="1.07" fill="#26828e"/><circle cx="226.75" cy="84.3" r="1" fill="#26828e"/><circle cx="228.03" cy="86.86" r="1.47" fill="#31688e"/><circle cx="229.27" cy="76.47" r="1.19" fill="#3e4989"/><circle cx="228.68" cy="76.71" r="1.25" fill="#3e4989"/><circle cx="224.54" cy="81.02" r="1.35" fill="#1f9e89"/><circle cx="230.56" cy="77.56" r="1.43" fill="#31688e"/><circle cx="235.21" cy="87.36" r="1.54" fill="#fde725"/><circle cx="232.64" cy="88" r="1.28" fill="#b5de2b"/><circle cx="232.64" cy="82.23" r="1.28" fill="#440154"/><circle cx="230.72" cy="84.79" r="1.28" fill="#482878"/><circle cx="223.92" cy="80.95" r="3.21" fill="none" stroke="#ee5a22" stroke-width="0.95"/>
<rect x="208.1" y="64.2" width="33.3" height="33.7" fill="none" stroke="#5a5a5a" stroke-width="0.5"/>
<path d="M211.07 97.9v1M208.1 94.9h-1M217.91 97.9v1M208.1 87.97h-1M224.75 97.9v1M208.1 81.05h-1M231.59 97.9v1M208.1 74.13h-1M238.43 97.9v1M208.1 67.2h-1" stroke="#444" stroke-width="0.4"/>
<text x="211.37" y="104.8" font-size="6.1" text-anchor="middle">−6</text>
<text x="205.4" y="97.35" font-size="6.1" text-anchor="end">−6</text>
<text x="218.21" y="104.8" font-size="6.1" text-anchor="middle">−3</text>
<text x="205.4" y="90.42" font-size="6.1" text-anchor="end">−3</text>
<text x="225.05" y="104.8" font-size="6.1" text-anchor="middle">0</text>
<text x="205.4" y="83.5" font-size="6.1" text-anchor="end">0</text>
<text x="231.89" y="104.8" font-size="6.1" text-anchor="middle">3</text>
<text x="205.4" y="76.58" font-size="6.1" text-anchor="end">3</text>
<text x="238.73" y="104.8" font-size="6.1" text-anchor="middle">6</text>
<text x="205.4" y="69.65" font-size="6.1" text-anchor="end">6</text>
<text x="224.75" y="111.3" font-size="5" text-anchor="middle">x-error(pixel)</text>
<text transform="translate(195.7 80.45) rotate(-90)" font-size="5.25" text-anchor="middle">y-error(pixel)</text>
<rect x="283.7" y="65.73" width="0.22" height="2.79" fill="#0a84bb"/>
<text class="q" x="285.42" y="68.97" font-size="6.5" textLength="13.12" lengthAdjust="spacingAndGlyphs">0.2%</text>
<text class="q" x="266.2" y="68.87" font-size="5.4" textLength="14.7" lengthAdjust="spacingAndGlyphs">4.7–5.6</text>
<path d="M283.7 67.12h-1" stroke="#444" stroke-width="0.4"/>
<rect x="283.7" y="71.3" width="1.22" height="2.79" fill="#0a84bb"/>
<text class="q" x="286.42" y="74.54" font-size="6.5" textLength="13.12" lengthAdjust="spacingAndGlyphs">1.1%</text>
<text class="q" x="266.2" y="74.44" font-size="5.4" textLength="14.7" lengthAdjust="spacingAndGlyphs">3.7–4.7</text>
<path d="M283.7 72.69h-1" stroke="#444" stroke-width="0.4"/>
<rect x="283.7" y="76.87" width="6.78" height="2.79" fill="#0a84bb"/>
<text class="q" x="291.98" y="80.11" font-size="6.5" textLength="13.12" lengthAdjust="spacingAndGlyphs">6.1%</text>
<text class="q" x="266.2" y="80.01" font-size="5.4" textLength="14.7" lengthAdjust="spacingAndGlyphs">2.8–3.7</text>
<path d="M283.7 78.26h-1" stroke="#444" stroke-width="0.4"/>
<rect x="283.7" y="82.44" width="17.77" height="2.79" fill="#0a84bb"/>
<text class="q" x="302.97" y="85.69" font-size="6.5" textLength="16.27" lengthAdjust="spacingAndGlyphs">16.0%</text>
<text class="q" x="266.2" y="85.59" font-size="5.4" textLength="14.7" lengthAdjust="spacingAndGlyphs">1.8–2.8</text>
<path d="M283.7 83.84h-1" stroke="#444" stroke-width="0.4"/>
<rect x="283.7" y="88.01" width="23.66" height="2.79" fill="#0a84bb"/>
<text class="q" x="308.86" y="91.26" font-size="6.5" textLength="16.27" lengthAdjust="spacingAndGlyphs">21.3%</text>
<text class="q" x="266.2" y="91.16" font-size="5.4" textLength="14.7" lengthAdjust="spacingAndGlyphs">0.9–1.8</text>
<path d="M283.7 89.41h-1" stroke="#444" stroke-width="0.4"/>
<rect x="283.7" y="93.58" width="61.2" height="2.79" fill="#0a84bb"/>
<text class="q" x="346.4" y="96.83" font-size="6.5" textLength="16.27" lengthAdjust="spacingAndGlyphs">55.1%</text>
<text class="q" x="266.2" y="96.73" font-size="5.4" textLength="14.7" lengthAdjust="spacingAndGlyphs">0.0–0.9</text>
<path d="M283.7 94.98h-1" stroke="#444" stroke-width="0.4"/>
<path d="M283.7 64.2V97.9" stroke="#444" stroke-width="0.5"/>
<text transform="translate(262.9 81.35) rotate(-90)" font-size="5.1" text-anchor="middle">RMSE(pixel)</text>
<text x="315.9" y="104.7" font-size="5.2" text-anchor="middle">number of points</text>
<path d="M398.93 64.2V97.9M390.6 72.62H423.9M407.25 64.2V97.9M390.6 81.05H423.9M415.58 64.2V97.9M390.6 89.48H423.9" stroke="#d9d9d9" stroke-width="0.45" fill="none"/>
<polygon points="399.26,83.51 401.18,80.95 403.74,79.03 406.31,77.36 409.51,77.1 412.08,78.38 415.28,79.67 417.85,80.95 419.77,82.87 418.49,84.79 414.64,84.79 410.79,84.54 406.95,84.79 403.1,85.44 399.9,86.08" fill="#26828e"/><circle cx="411.4" cy="80.91" r="1.07" fill="#1f9e89"/><circle cx="403.19" cy="81.09" r="1.23" fill="#31688e"/><circle cx="413.82" cy="80.88" r="1.37" fill="#1f9e89"/><circle cx="406.62" cy="77.62" r="1.29" fill="#6ece58"/><circle cx="412.75" cy="82.68" r="1.18" fill="#fde725"/><circle cx="414.84" cy="80.41" r="1.33" fill="#1f9e89"/><circle cx="405.71" cy="77.87" r="1.36" fill="#1f9e89"/><circle cx="411.37" cy="81.12" r="1.09" fill="#35b779"/><circle cx="402.92" cy="80" r="1.1" fill="#6ece58"/><circle cx="411.01" cy="84.47" r="1.18" fill="#26828e"/><circle cx="405.17" cy="79.84" r="1.27" fill="#6ece58"/><circle cx="415.33" cy="83.45" r="1.12" fill="#6ece58"/><circle cx="399.74" cy="84.37" r="1.49" fill="#35b779"/><circle cx="414.62" cy="80.21" r="1.19" fill="#fde725"/><circle cx="408.81" cy="78.87" r="1.48" fill="#b5de2b"/><circle cx="410.11" cy="78.63" r="1.41" fill="#1f9e89"/><circle cx="404.45" cy="80.89" r="1.22" fill="#b5de2b"/><circle cx="413.36" cy="80.81" r="1.41" fill="#35b779"/><circle cx="412.37" cy="79.24" r="1.2" fill="#31688e"/><circle cx="415.09" cy="82.1" r="1.41" fill="#1f9e89"/><circle cx="401.48" cy="82.77" r="1.28" fill="#26828e"/><circle cx="410.79" cy="81.97" r="1.28" fill="#31688e"/><circle cx="408.91" cy="81.14" r="1" fill="#35b779"/><circle cx="406.99" cy="84.15" r="1.43" fill="#31688e"/><circle cx="403.43" cy="83.22" r="1.22" fill="#31688e"/><circle cx="407.92" cy="77.84" r="1.24" fill="#35b779"/><circle cx="413.39" cy="81.94" r="1.26" fill="#1f9e89"/><circle cx="401.03" cy="84.97" r="1.25" fill="#6ece58"/><circle cx="415.19" cy="83.15" r="1.15" fill="#1f9e89"/><circle cx="405.81" cy="80.24" r="1.48" fill="#31688e"/><circle cx="406.26" cy="80.58" r="1.41" fill="#26828e"/><circle cx="409.06" cy="82.07" r="1.14" fill="#31688e"/><circle cx="404.67" cy="84.75" r="1.06" fill="#1f9e89"/><circle cx="408.75" cy="78.19" r="1.22" fill="#1f9e89"/><circle cx="419.41" cy="82.79" r="1.4" fill="#482878"/><circle cx="404.91" cy="80.35" r="1.42" fill="#31688e"/><circle cx="401.11" cy="83.73" r="1.34" fill="#26828e"/><circle cx="418.03" cy="82.98" r="1.49" fill="#31688e"/><circle cx="402.11" cy="83.67" r="1.35" fill="#26828e"/><circle cx="410.94" cy="84.02" r="1.3" fill="#6ece58"/><circle cx="411.39" cy="80.04" r="1.05" fill="#3e4989"/><circle cx="408.01" cy="79.95" r="1.27" fill="#1f9e89"/><circle cx="416.88" cy="81.02" r="1.33" fill="#26828e"/><circle cx="401.91" cy="80.51" r="1.42" fill="#6ece58"/><circle cx="414.11" cy="83.91" r="1.11" fill="#1f9e89"/><circle cx="409.51" cy="78.13" r="1.28" fill="#440154"/><circle cx="409.51" cy="82.87" r="1.28" fill="#482878"/><circle cx="407.33" cy="80.31" r="0.77" fill="#ee5a22"/>
<rect x="390.6" y="64.2" width="33.3" height="33.7" fill="none" stroke="#5a5a5a" stroke-width="0.5"/>
<path d="M390.6 97.9v1M390.6 97.9h-1M398.93 97.9v1M390.6 89.48h-1M407.25 97.9v1M390.6 81.05h-1M415.58 97.9v1M390.6 72.62h-1M423.9 97.9v1M390.6 64.2h-1" stroke="#444" stroke-width="0.4"/>
<text x="390.9" y="104.8" font-size="6.1" text-anchor="middle">−76</text>
<text x="387.9" y="100.35" font-size="6.1" text-anchor="end">−76</text>
<text x="399.23" y="104.8" font-size="6.1" text-anchor="middle">−38</text>
<text x="387.9" y="91.93" font-size="6.1" text-anchor="end">−38</text>
<text x="407.55" y="104.8" font-size="6.1" text-anchor="middle">0</text>
<text x="387.9" y="83.5" font-size="6.1" text-anchor="end">0</text>
<text x="415.88" y="104.8" font-size="6.1" text-anchor="middle">38</text>
<text x="387.9" y="75.08" font-size="6.1" text-anchor="end">38</text>
<text x="424.2" y="104.8" font-size="6.1" text-anchor="middle">76</text>
<text x="387.9" y="66.65" font-size="6.1" text-anchor="end">76</text>
<text x="407.25" y="111.3" font-size="5" text-anchor="middle">x-error(pixel)</text>
<text transform="translate(375 80.45) rotate(-90)" font-size="5.25" text-anchor="middle">y-error(pixel)</text>
<rect x="466.2" y="65.73" width="0.49" height="2.79" fill="#0a84bb"/>
<text class="q" x="468.19" y="68.97" font-size="6.5" textLength="13.12" lengthAdjust="spacingAndGlyphs">0.4%</text>
<text class="q" x="443.8" y="68.87" font-size="5.4" textLength="19.6" lengthAdjust="spacingAndGlyphs">44.1–52.9</text>
<path d="M466.2 67.12h-1" stroke="#444" stroke-width="0.4"/>
<rect x="466.2" y="71.3" width="3.29" height="2.79" fill="#0a84bb"/>
<text class="q" x="470.99" y="74.54" font-size="6.5" textLength="13.12" lengthAdjust="spacingAndGlyphs">2.7%</text>
<text class="q" x="443.8" y="74.44" font-size="5.4" textLength="19.6" lengthAdjust="spacingAndGlyphs">35.3–44.1</text>
<path d="M466.2 72.69h-1" stroke="#444" stroke-width="0.4"/>
<rect x="466.2" y="76.87" width="13.53" height="2.79" fill="#0a84bb"/>
<text class="q" x="481.23" y="80.11" font-size="6.5" textLength="16.04" lengthAdjust="spacingAndGlyphs">11.1%</text>
<text class="q" x="443.8" y="80.01" font-size="5.4" textLength="19.6" lengthAdjust="spacingAndGlyphs">26.4–35.3</text>
<path d="M466.2 78.26h-1" stroke="#444" stroke-width="0.4"/>
<rect x="466.2" y="82.44" width="20.6" height="2.79" fill="#0a84bb"/>
<text class="q" x="488.3" y="85.69" font-size="6.5" textLength="16.27" lengthAdjust="spacingAndGlyphs">16.9%</text>
<text class="q" x="443.8" y="85.59" font-size="5.4" textLength="19.6" lengthAdjust="spacingAndGlyphs">17.6–26.4</text>
<path d="M466.2 83.84h-1" stroke="#444" stroke-width="0.4"/>
<rect x="466.2" y="88.01" width="22.55" height="2.79" fill="#0a84bb"/>
<text class="q" x="490.25" y="91.26" font-size="6.5" textLength="16.27" lengthAdjust="spacingAndGlyphs">18.5%</text>
<text class="q" x="446.25" y="91.16" font-size="5.4" textLength="17.15" lengthAdjust="spacingAndGlyphs">8.8–17.6</text>
<path d="M466.2 89.41h-1" stroke="#444" stroke-width="0.4"/>
<rect x="466.2" y="93.58" width="61.2" height="2.79" fill="#0a84bb"/>
<text class="q" x="528.9" y="96.83" font-size="6.5" textLength="16.27" lengthAdjust="spacingAndGlyphs">50.2%</text>
<text class="q" x="448.7" y="96.73" font-size="5.4" textLength="14.7" lengthAdjust="spacingAndGlyphs">0.0–8.8</text>
<path d="M466.2 94.98h-1" stroke="#444" stroke-width="0.4"/>
<path d="M466.2 64.2V97.9" stroke="#444" stroke-width="0.5"/>
<text transform="translate(440.5 81.35) rotate(-90)" font-size="5.1" text-anchor="middle">RMSE(pixel)</text>
<text x="498.4" y="104.7" font-size="5.2" text-anchor="middle">number of points</text>
<path d="M33.83 119V152.7M25.5 127.42H58.8M42.15 119V152.7M25.5 135.85H58.8M50.47 119V152.7M25.5 144.27H58.8" stroke="#d9d9d9" stroke-width="0.45" fill="none"/>
<polygon points="37.85,132.1 40.67,130.18 43.23,127.62 46.44,125.05 49,124.41 49.64,125.69 47.72,127.62 46.44,130.18 47.72,133.38 48.36,137.23 47.08,141.08 45.15,143 43.23,143.64 41.31,141.72 39.38,138.51 38.1,135.95" fill="#1f9e89"/><circle cx="42.48" cy="137.56" r="1.06" fill="#482878"/><circle cx="40.58" cy="138.98" r="1.37" fill="#3e4989"/><circle cx="45.66" cy="127.04" r="1.22" fill="#35b779"/><circle cx="40.19" cy="130.76" r="1.48" fill="#26828e"/><circle cx="44.74" cy="134.94" r="1.42" fill="#fde725"/><circle cx="48.09" cy="136.93" r="1.4" fill="#3e4989"/><circle cx="46.45" cy="128.14" r="1.11" fill="#35b779"/><circle cx="41.79" cy="132.03" r="1.42" fill="#35b779"/><circle cx="45.2" cy="134.91" r="1.05" fill="#35b779"/><circle cx="44.94" cy="137.78" r="1.2" fill="#482878"/><circle cx="43.21" cy="139.81" r="1.39" fill="#1f9e89"/><circle cx="44.47" cy="126.68" r="1.49" fill="#482878"/><circle cx="41.8" cy="138.13" r="1.24" fill="#b5de2b"/><circle cx="43.72" cy="139.57" r="1.19" fill="#31688e"/><circle cx="45.07" cy="136.65" r="1.06" fill="#440154"/><circle cx="39.47" cy="138.36" r="1.49" fill="#6ece58"/><circle cx="42.27" cy="129.84" r="1.02" fill="#3e4989"/><circle cx="38.44" cy="136.22" r="1.1" fill="#3e4989"/><circle cx="40.01" cy="133.16" r="1.26" fill="#6ece58"/><circle cx="44.03" cy="138.2" r="1.36" fill="#1f9e89"/><circle cx="45.99" cy="135.56" r="1.43" fill="#3e4989"/><circle cx="39.25" cy="132.58" r="1.19" fill="#482878"/><circle cx="41.47" cy="132.59" r="1.27" fill="#6ece58"/><circle cx="40.71" cy="139.39" r="1.41" fill="#6ece58"/><circle cx="42.14" cy="132.13" r="1.19" fill="#6ece58"/><circle cx="41.92" cy="137.83" r="1.39" fill="#26828e"/><circle cx="45.22" cy="133.63" r="1.47" fill="#1f9e89"/><circle cx="38.24" cy="133.69" r="1.24" fill="#31688e"/><circle cx="42.32" cy="138.98" r="1.46" fill="#31688e"/><circle cx="44.68" cy="132.17" r="1.12" fill="#6ece58"/><circle cx="44.98" cy="140.69" r="1.16" fill="#35b779"/><circle cx="38.98" cy="135.45" r="1.19" fill="#3e4989"/><circle cx="44.24" cy="142.51" r="1.26" fill="#35b779"/><circle cx="42.42" cy="137.43" r="1.11" fill="#35b779"/><circle cx="42.69" cy="140.25" r="1.35" fill="#31688e"/><circle cx="45.91" cy="130.64" r="1.4" fill="#fde725"/><circle cx="42.67" cy="134.77" r="1.07" fill="#1f9e89"/><circle cx="43.04" cy="133.64" r="1.34" fill="#1f9e89"/><circle cx="46.42" cy="130.93" r="1.04" fill="#3e4989"/><circle cx="47.98" cy="125.5" r="1.45" fill="#35b779"/><circle cx="41.65" cy="131.89" r="1.47" fill="#26828e"/><circle cx="45.92" cy="140.54" r="1.37" fill="#440154"/><circle cx="43.17" cy="132.13" r="1.37" fill="#6ece58"/><circle cx="44.41" cy="139.5" r="1.07" fill="#1f9e89"/><circle cx="44.75" cy="141.16" r="1.06" fill="#b5de2b"/><circle cx="42.34" cy="128.81" r="1.48" fill="#26828e"/><circle cx="42.81" cy="130.43" r="1.22" fill="#31688e"/><circle cx="45.75" cy="131" r="1.11" fill="#3e4989"/><circle cx="39.84" cy="138.91" r="1.39" fill="#482878"/><circle cx="40.98" cy="139.4" r="1.04" fill="#1f9e89"/><circle cx="44.24" cy="133.76" r="1.35" fill="#26828e"/><circle cx="44.93" cy="130.44" r="1.27" fill="#b5de2b"/><circle cx="46.97" cy="126.72" r="1.31" fill="#6ece58"/><circle cx="44.35" cy="135.8" r="1.13" fill="#6ece58"/><circle cx="44.27" cy="139.54" r="1.27" fill="#35b779"/><circle cx="45.08" cy="127.27" r="1.24" fill="#fde725"/><circle cx="44.15" cy="140.13" r="1.07" fill="#b5de2b"/><circle cx="43.19" cy="127.88" r="1.07" fill="#1f9e89"/><circle cx="42.44" cy="141.67" r="1.17" fill="#6ece58"/><circle cx="43.74" cy="137.16" r="1.07" fill="#3e4989"/><circle cx="47.72" cy="125.05" r="1.28" fill="#6ece58"/><circle cx="45.15" cy="126.97" r="1.28" fill="#35b779"/><circle cx="39.38" cy="133.38" r="1.54" fill="#482878"/><circle cx="45.79" cy="137.23" r="1.28" fill="#fde725"/><circle cx="43.23" cy="143" r="1.28" fill="#440154"/><circle cx="41.95" cy="135.95" r="6.54" fill="none" stroke="#ee5a22" stroke-width="0.95"/>
<rect x="25.5" y="119" width="33.3" height="33.7" fill="none" stroke="#5a5a5a" stroke-width="0.5"/>
<path d="M25.5 152.7v1M25.5 152.7h-1M33.83 152.7v1M25.5 144.27h-1M42.15 152.7v1M25.5 135.85h-1M50.47 152.7v1M25.5 127.42h-1M58.8 152.7v1M25.5 119h-1" stroke="#444" stroke-width="0.4"/>
<text x="25.8" y="159.6" font-size="6.1" text-anchor="middle">−4</text>
<text x="22.8" y="155.15" font-size="6.1" text-anchor="end">−4</text>
<text x="34.12" y="159.6" font-size="6.1" text-anchor="middle">−2</text>
<text x="22.8" y="146.72" font-size="6.1" text-anchor="end">−2</text>
<text x="42.45" y="159.6" font-size="6.1" text-anchor="middle">0</text>
<text x="22.8" y="138.3" font-size="6.1" text-anchor="end">0</text>
<text x="50.77" y="159.6" font-size="6.1" text-anchor="middle">2</text>
<text x="22.8" y="129.88" font-size="6.1" text-anchor="end">2</text>
<text x="59.1" y="159.6" font-size="6.1" text-anchor="middle">4</text>
<text x="22.8" y="121.45" font-size="6.1" text-anchor="end">4</text>
<text x="42.15" y="166.1" font-size="5" text-anchor="middle">x-error(pixel)</text>
<text transform="translate(13.1 135.25) rotate(-90)" font-size="5.25" text-anchor="middle">y-error(pixel)</text>
<text transform="translate(8 135.85) rotate(-90)" font-size="5.4" text-anchor="middle">V04</text>
<rect x="101.1" y="120.53" width="0.15" height="2.79" fill="#0a84bb"/>
<text class="q" x="102.62" y="123.77" font-size="6.5" textLength="18.25" lengthAdjust="spacingAndGlyphs">< 0.1%</text>
<text class="q" x="83.6" y="123.67" font-size="5.4" textLength="14.7" lengthAdjust="spacingAndGlyphs">2.3–2.7</text>
<path d="M101.1 121.92h-1" stroke="#444" stroke-width="0.4"/>
<rect x="101.1" y="126.1" width="0.15" height="2.79" fill="#0a84bb"/>
<text class="q" x="102.68" y="129.34" font-size="6.5" textLength="13.12" lengthAdjust="spacingAndGlyphs">0.1%</text>
<text class="q" x="83.6" y="129.24" font-size="5.4" textLength="14.7" lengthAdjust="spacingAndGlyphs">1.8–2.3</text>
<path d="M101.1 127.49h-1" stroke="#444" stroke-width="0.4"/>
<rect x="101.1" y="131.67" width="0.23" height="2.79" fill="#0a84bb"/>
<text class="q" x="102.83" y="134.91" font-size="6.5" textLength="13.12" lengthAdjust="spacingAndGlyphs">0.3%</text>
<text class="q" x="83.6" y="134.81" font-size="5.4" textLength="14.7" lengthAdjust="spacingAndGlyphs">1.3–1.8</text>
<path d="M101.1 133.06h-1" stroke="#444" stroke-width="0.4"/>
<rect x="101.1" y="137.24" width="1.44" height="2.79" fill="#0a84bb"/>
<text class="q" x="104.04" y="140.49" font-size="6.5" textLength="13.12" lengthAdjust="spacingAndGlyphs">1.9%</text>
<text class="q" x="83.6" y="140.39" font-size="5.4" textLength="14.7" lengthAdjust="spacingAndGlyphs">0.9–1.3</text>
<path d="M101.1 138.64h-1" stroke="#444" stroke-width="0.4"/>
<rect x="101.1" y="142.81" width="12.92" height="2.79" fill="#0a84bb"/>
<text class="q" x="115.52" y="146.06" font-size="6.5" textLength="16.27" lengthAdjust="spacingAndGlyphs">17.0%</text>
<text class="q" x="83.6" y="145.96" font-size="5.4" textLength="14.7" lengthAdjust="spacingAndGlyphs">0.4–0.9</text>
<path d="M101.1 144.21h-1" stroke="#444" stroke-width="0.4"/>
<rect x="101.1" y="148.38" width="61.2" height="2.79" fill="#0a84bb"/>
<text class="q" x="163.8" y="151.63" font-size="6.5" textLength="16.27" lengthAdjust="spacingAndGlyphs">80.5%</text>
<text class="q" x="83.6" y="151.53" font-size="5.4" textLength="14.7" lengthAdjust="spacingAndGlyphs">0.0–0.4</text>
<path d="M101.1 149.78h-1" stroke="#444" stroke-width="0.4"/>
<path d="M101.1 119V152.7" stroke="#444" stroke-width="0.5"/>
<text transform="translate(80.3 136.15) rotate(-90)" font-size="5.1" text-anchor="middle">RMSE(pixel)</text>
<text x="133.3" y="159.5" font-size="5.2" text-anchor="middle">number of points</text>
<path d="M216.42 119V152.7M208.1 127.42H241.4M224.75 119V152.7M208.1 135.85H241.4M233.07 119V152.7M208.1 144.27H241.4" stroke="#d9d9d9" stroke-width="0.45" fill="none"/>
<polygon points="219.82,125.69 221.74,123.77 224.31,122.87 226.23,123.77 227.51,126.97 228.15,130.82 230.08,134.67 230.72,138.51 229.44,142.36 227.51,144.92 225.59,146.85 223.67,145.56 223.03,142.36 222.38,138.51 221.1,134.67 220.46,130.82 219.56,128.26" fill="#26828e"/><circle cx="220.43" cy="127.99" r="1.45" fill="#31688e"/><circle cx="225.1" cy="140.14" r="1.25" fill="#3e4989"/><circle cx="228.97" cy="135.41" r="1.44" fill="#fde725"/><circle cx="228.97" cy="142.93" r="1.1" fill="#fde725"/><circle cx="220.47" cy="125.77" r="1.06" fill="#fde725"/><circle cx="223.5" cy="126.79" r="1.46" fill="#31688e"/><circle cx="227.8" cy="136.5" r="1.39" fill="#1f9e89"/><circle cx="226.11" cy="128.37" r="1.12" fill="#31688e"/><circle cx="224.32" cy="124.54" r="1.41" fill="#26828e"/><circle cx="224.53" cy="139.71" r="1.03" fill="#3e4989"/><circle cx="222.93" cy="132.09" r="1.02" fill="#31688e"/><circle cx="225.05" cy="145.75" r="1.31" fill="#6ece58"/><circle cx="225.42" cy="135.07" r="1.19" fill="#31688e"/><circle cx="229.04" cy="135.09" r="1.41" fill="#1f9e89"/><circle cx="226.77" cy="126.17" r="1" fill="#31688e"/><circle cx="226.18" cy="146.1" r="1.16" fill="#6ece58"/><circle cx="224.65" cy="124.87" r="1.08" fill="#31688e"/><circle cx="223.64" cy="124.85" r="1.49" fill="#35b779"/><circle cx="226.08" cy="134.44" r="1.19" fill="#b5de2b"/><circle cx="227.61" cy="139.05" r="1.19" fill="#6ece58"/><circle cx="220.84" cy="130.5" r="1.49" fill="#fde725"/><circle cx="222.13" cy="133.47" r="1.45" fill="#26828e"/><circle cx="222.39" cy="136.04" r="1.04" fill="#3e4989"/><circle cx="229.41" cy="134.93" r="1.43" fill="#fde725"/><circle cx="225.17" cy="124.45" r="1.49" fill="#31688e"/><circle cx="223.12" cy="140.01" r="1.09" fill="#1f9e89"/><circle cx="230.54" cy="137.75" r="1.01" fill="#26828e"/><circle cx="225.26" cy="140.9" r="1.04" fill="#31688e"/><circle cx="223.77" cy="134.21" r="1.26" fill="#1f9e89"/><circle cx="221" cy="129.46" r="1.1" fill="#31688e"/><circle cx="224.85" cy="135.7" r="1.27" fill="#3e4989"/><circle cx="228.03" cy="133.54" r="1.46" fill="#31688e"/><circle cx="224.55" cy="126.45" r="1.21" fill="#6ece58"/><circle cx="228.48" cy="137.44" r="1.04" fill="#1f9e89"/><circle cx="225.41" cy="134.62" r="1.01" fill="#26828e"/><circle cx="229.53" cy="134.68" r="1.43" fill="#26828e"/><circle cx="229.16" cy="140.11" r="1.17" fill="#b5de2b"/><circle cx="220.73" cy="131.21" r="1.39" fill="#1f9e89"/><circle cx="227.76" cy="137.97" r="1.33" fill="#1f9e89"/><circle cx="225.66" cy="129.48" r="1.31" fill="#482878"/><circle cx="227.04" cy="137.87" r="1.44" fill="#35b779"/><circle cx="226.45" cy="131.22" r="1.34" fill="#26828e"/><circle cx="229.06" cy="139.85" r="1.38" fill="#26828e"/><circle cx="220.45" cy="126.73" r="1.31" fill="#fde725"/><circle cx="221.43" cy="125.97" r="1.27" fill="#26828e"/><circle cx="226.65" cy="133.43" r="1.47" fill="#1f9e89"/><circle cx="227.72" cy="129.29" r="1.37" fill="#3e4989"/><circle cx="227.04" cy="131.47" r="1.05" fill="#26828e"/><circle cx="221.14" cy="128.2" r="1.06" fill="#35b779"/><circle cx="221.77" cy="134" r="1.12" fill="#31688e"/><circle cx="225.83" cy="124.9" r="1.35" fill="#1f9e89"/><circle cx="224.56" cy="127.43" r="1.14" fill="#440154"/><circle cx="224.12" cy="125.29" r="1.25" fill="#26828e"/><circle cx="230.22" cy="139.72" r="1.42" fill="#26828e"/><circle cx="223.19" cy="126.1" r="1.35" fill="#26828e"/><circle cx="222.56" cy="131.5" r="1.02" fill="#3e4989"/><circle cx="220.24" cy="126.46" r="1.48" fill="#26828e"/><circle cx="221.99" cy="123.92" r="1.17" fill="#482878"/><circle cx="220.26" cy="127.42" r="1.14" fill="#482878"/><circle cx="220.55" cy="126.81" r="1.12" fill="#31688e"/><circle cx="226.64" cy="131.74" r="1.01" fill="#31688e"/><circle cx="230.14" cy="139.88" r="1.16" fill="#26828e"/><circle cx="221.74" cy="133.43" r="1.47" fill="#26828e"/><circle cx="227.71" cy="138.66" r="1.02" fill="#1f9e89"/><circle cx="226.3" cy="145.95" r="1.11" fill="#6ece58"/><circle cx="224.79" cy="141.9" r="1.2" fill="#6ece58"/><circle cx="225.55" cy="132.99" r="1.29" fill="#1f9e89"/><circle cx="224.93" cy="136.04" r="1.39" fill="#1f9e89"/><circle cx="224.27" cy="128.09" r="1.2" fill="#31688e"/><circle cx="224.63" cy="125.42" r="1.23" fill="#31688e"/><circle cx="219.82" cy="128.9" r="1.28" fill="#fde725"/><circle cx="220.85" cy="126.33" r="1.15" fill="#482878"/><circle cx="224.95" cy="144.28" r="1.28" fill="#b5de2b"/><circle cx="224.31" cy="135.31" r="2.18" fill="none" stroke="#ee5a22" stroke-width="0.95"/>
<rect x="208.1" y="119" width="33.3" height="33.7" fill="none" stroke="#5a5a5a" stroke-width="0.5"/>
<path d="M208.1 152.7v1M208.1 152.7h-1M216.42 152.7v1M208.1 144.27h-1M224.75 152.7v1M208.1 135.85h-1M233.07 152.7v1M208.1 127.42h-1M241.4 152.7v1M208.1 119h-1" stroke="#444" stroke-width="0.4"/>
<text x="208.4" y="159.6" font-size="6.1" text-anchor="middle">−10</text>
<text x="205.4" y="155.15" font-size="6.1" text-anchor="end">−10</text>
<text x="216.72" y="159.6" font-size="6.1" text-anchor="middle">−5</text>
<text x="205.4" y="146.72" font-size="6.1" text-anchor="end">−5</text>
<text x="225.05" y="159.6" font-size="6.1" text-anchor="middle">0</text>
<text x="205.4" y="138.3" font-size="6.1" text-anchor="end">0</text>
<text x="233.38" y="159.6" font-size="6.1" text-anchor="middle">5</text>
<text x="205.4" y="129.88" font-size="6.1" text-anchor="end">5</text>
<text x="241.7" y="159.6" font-size="6.1" text-anchor="middle">10</text>
<text x="205.4" y="121.45" font-size="6.1" text-anchor="end">10</text>
<text x="224.75" y="166.1" font-size="5" text-anchor="middle">x-error(pixel)</text>
<text transform="translate(192.5 135.25) rotate(-90)" font-size="5.25" text-anchor="middle">y-error(pixel)</text>
<rect x="283.7" y="120.53" width="0.15" height="2.79" fill="#0a84bb"/>
<text class="q" x="285.29" y="123.77" font-size="6.5" textLength="13.12" lengthAdjust="spacingAndGlyphs">0.1%</text>
<text class="q" x="266.2" y="123.67" font-size="5.4" textLength="14.7" lengthAdjust="spacingAndGlyphs">5.7–6.9</text>
<path d="M283.7 121.92h-1" stroke="#444" stroke-width="0.4"/>
<rect x="283.7" y="126.1" width="0.66" height="2.79" fill="#0a84bb"/>
<text class="q" x="285.86" y="129.34" font-size="6.5" textLength="13.12" lengthAdjust="spacingAndGlyphs">0.7%</text>
<text class="q" x="266.2" y="129.24" font-size="5.4" textLength="14.7" lengthAdjust="spacingAndGlyphs">4.6–5.7</text>
<path d="M283.7 127.49h-1" stroke="#444" stroke-width="0.4"/>
<rect x="283.7" y="131.67" width="3.02" height="2.79" fill="#0a84bb"/>
<text class="q" x="288.22" y="134.91" font-size="6.5" textLength="13.12" lengthAdjust="spacingAndGlyphs">3.2%</text>
<text class="q" x="266.2" y="134.81" font-size="5.4" textLength="14.7" lengthAdjust="spacingAndGlyphs">3.4–4.6</text>
<path d="M283.7 133.06h-1" stroke="#444" stroke-width="0.4"/>
<rect x="283.7" y="137.24" width="8.88" height="2.79" fill="#0a84bb"/>
<text class="q" x="294.08" y="140.49" font-size="6.5" textLength="13.12" lengthAdjust="spacingAndGlyphs">9.4%</text>
<text class="q" x="266.2" y="140.39" font-size="5.4" textLength="14.7" lengthAdjust="spacingAndGlyphs">2.3–3.4</text>
<path d="M283.7 138.64h-1" stroke="#444" stroke-width="0.4"/>
<rect x="283.7" y="142.81" width="20.21" height="2.79" fill="#0a84bb"/>
<text class="q" x="305.41" y="146.06" font-size="6.5" textLength="16.27" lengthAdjust="spacingAndGlyphs">21.4%</text>
<text class="q" x="266.2" y="145.96" font-size="5.4" textLength="14.7" lengthAdjust="spacingAndGlyphs">1.1–2.3</text>
<path d="M283.7 144.21h-1" stroke="#444" stroke-width="0.4"/>
<rect x="283.7" y="148.38" width="61.2" height="2.79" fill="#0a84bb"/>
<text class="q" x="346.4" y="151.63" font-size="6.5" textLength="16.27" lengthAdjust="spacingAndGlyphs">64.8%</text>
<text class="q" x="266.2" y="151.53" font-size="5.4" textLength="14.7" lengthAdjust="spacingAndGlyphs">0.0–1.1</text>
<path d="M283.7 149.78h-1" stroke="#444" stroke-width="0.4"/>
<path d="M283.7 119V152.7" stroke="#444" stroke-width="0.5"/>
<text transform="translate(262.9 136.15) rotate(-90)" font-size="5.1" text-anchor="middle">RMSE(pixel)</text>
<text x="315.9" y="159.5" font-size="5.2" text-anchor="middle">number of points</text>
<path d="M398.93 119V152.7M390.6 127.42H423.9M407.25 119V152.7M390.6 135.85H423.9M415.58 119V152.7M390.6 144.27H423.9" stroke="#d9d9d9" stroke-width="0.45" fill="none"/>
<polygon points="402.46,129.54 403.74,128 405.67,128.9 408.23,128.26 410.15,125.69 412.72,123.38 415.28,123.77 414.64,126.33 412.72,128.9 412.08,132.1 414,134.67 415.28,137.23 414,140.44 412.72,144.28 410.79,145.56 408.23,144.92 405.67,143 405.03,139.79 403.1,137.23 401.82,133.38" fill="#1f9e89"/><circle cx="409.5" cy="137.41" r="1.14" fill="#6ece58"/><circle cx="410.6" cy="143.14" r="1.09" fill="#b5de2b"/><circle cx="410.59" cy="137.07" r="1.48" fill="#1f9e89"/><circle cx="408.93" cy="133.26" r="1.32" fill="#b5de2b"/><circle cx="405.88" cy="130.24" r="1.03" fill="#1f9e89"/><circle cx="410" cy="139.71" r="1.42" fill="#26828e"/><circle cx="414.31" cy="135.71" r="1.06" fill="#35b779"/><circle cx="413.89" cy="140.02" r="1.16" fill="#482878"/><circle cx="405.09" cy="129.43" r="1.26" fill="#440154"/><circle cx="405.92" cy="132.13" r="1.06" fill="#3e4989"/><circle cx="411.88" cy="135.8" r="1.07" fill="#482878"/><circle cx="403.43" cy="130.41" r="1.14" fill="#440154"/><circle cx="410.62" cy="133.54" r="1.18" fill="#1f9e89"/><circle cx="409.08" cy="140.8" r="1.04" fill="#31688e"/><circle cx="408.3" cy="131.79" r="1.06" fill="#6ece58"/><circle cx="413.57" cy="123.71" r="1.22" fill="#1f9e89"/><circle cx="406.07" cy="143.1" r="1.08" fill="#35b779"/><circle cx="408.48" cy="136.96" r="1.04" fill="#440154"/><circle cx="409.92" cy="139.56" r="1.21" fill="#1f9e89"/><circle cx="408.64" cy="129.16" r="1.48" fill="#6ece58"/><circle cx="407.17" cy="141.2" r="1.05" fill="#31688e"/><circle cx="410.19" cy="129.73" r="1.38" fill="#35b779"/><circle cx="407.66" cy="141.34" r="1.43" fill="#b5de2b"/><circle cx="411.92" cy="136.4" r="1.43" fill="#1f9e89"/><circle cx="410.23" cy="139.38" r="1.05" fill="#3e4989"/><circle cx="405.46" cy="136.32" r="1.1" fill="#1f9e89"/><circle cx="412.21" cy="136.11" r="1.34" fill="#fde725"/><circle cx="407.39" cy="143.71" r="1.07" fill="#6ece58"/><circle cx="412.33" cy="140.94" r="1.06" fill="#3e4989"/><circle cx="406.75" cy="141.11" r="1.43" fill="#6ece58"/><circle cx="413.07" cy="123.75" r="1.43" fill="#440154"/><circle cx="410.15" cy="130.63" r="1.17" fill="#482878"/><circle cx="406.39" cy="134.38" r="1.1" fill="#1f9e89"/><circle cx="412.59" cy="135.47" r="1.32" fill="#1f9e89"/><circle cx="402.88" cy="130.86" r="1.13" fill="#26828e"/><circle cx="405.95" cy="141.88" r="1.22" fill="#440154"/><circle cx="406.98" cy="129.64" r="1.11" fill="#35b779"/><circle cx="410.5" cy="144.6" r="1.4" fill="#31688e"/><circle cx="412.52" cy="134.83" r="1.19" fill="#6ece58"/><circle cx="413.62" cy="125.11" r="1.09" fill="#35b779"/><circle cx="407.61" cy="141.41" r="1.37" fill="#31688e"/><circle cx="414.04" cy="137.29" r="1.33" fill="#3e4989"/><circle cx="407.8" cy="132.24" r="1.38" fill="#482878"/><circle cx="403.95" cy="128.23" r="1.08" fill="#440154"/><circle cx="406.99" cy="133.96" r="1.21" fill="#3e4989"/><circle cx="412.03" cy="125.53" r="1.26" fill="#482878"/><circle cx="413.93" cy="135.16" r="1.29" fill="#26828e"/><circle cx="408.46" cy="134.62" r="1.27" fill="#31688e"/><circle cx="409.14" cy="129.66" r="1.46" fill="#1f9e89"/><circle cx="405" cy="129.01" r="1.43" fill="#31688e"/><circle cx="405.9" cy="141.73" r="1.44" fill="#b5de2b"/><circle cx="412.65" cy="127.7" r="1.41" fill="#1f9e89"/><circle cx="405.13" cy="136.73" r="1.47" fill="#6ece58"/><circle cx="409.19" cy="129.6" r="1.33" fill="#6ece58"/><circle cx="410.18" cy="141.72" r="1.32" fill="#31688e"/><circle cx="406.54" cy="129.8" r="1.39" fill="#482878"/><circle cx="413.94" cy="124.08" r="1.03" fill="#35b779"/><circle cx="407.44" cy="130.41" r="1.22" fill="#b5de2b"/><circle cx="408.7" cy="131.28" r="1.12" fill="#31688e"/><circle cx="409.23" cy="139.76" r="1.13" fill="#35b779"/><circle cx="407.63" cy="130.79" r="1.48" fill="#3e4989"/><circle cx="411.45" cy="126.3" r="1.4" fill="#3e4989"/><circle cx="406.84" cy="130.07" r="1.16" fill="#31688e"/><circle cx="409.75" cy="130.3" r="1.03" fill="#35b779"/><circle cx="409.03" cy="136.33" r="1.43" fill="#31688e"/><circle cx="414.32" cy="137.96" r="1.08" fill="#26828e"/><circle cx="410.24" cy="129.8" r="1.27" fill="#3e4989"/><circle cx="404.52" cy="137.56" r="1.01" fill="#6ece58"/><circle cx="410.34" cy="127.63" r="1.36" fill="#26828e"/><circle cx="411.98" cy="131.08" r="1.09" fill="#b5de2b"/><circle cx="410.77" cy="125.22" r="1.37" fill="#1f9e89"/><circle cx="409.22" cy="132.26" r="1.32" fill="#35b779"/><circle cx="410.05" cy="139.22" r="1.47" fill="#6ece58"/><circle cx="410.18" cy="142.82" r="1.19" fill="#6ece58"/><circle cx="412.98" cy="142.88" r="1.46" fill="#b5de2b"/><circle cx="403.74" cy="129.79" r="1.54" fill="#440154"/><circle cx="412.08" cy="127.23" r="1.41" fill="#482878"/><circle cx="406.95" cy="141.33" r="1.54" fill="#440154"/><circle cx="411.44" cy="139.15" r="1.28" fill="#fde725"/><circle cx="411.82" cy="144.92" r="1.03" fill="#fde725"/><circle cx="406.95" cy="135.31" r="0.9" fill="#e8442a"/>
<rect x="390.6" y="119" width="33.3" height="33.7" fill="none" stroke="#5a5a5a" stroke-width="0.5"/>
<path d="M390.6 152.7v1M390.6 152.7h-1M398.93 152.7v1M390.6 144.27h-1M407.25 152.7v1M390.6 135.85h-1M415.58 152.7v1M390.6 127.42h-1M423.9 152.7v1M390.6 119h-1" stroke="#444" stroke-width="0.4"/>
<text x="390.9" y="159.6" font-size="6.1" text-anchor="middle">−44</text>
<text x="387.9" y="155.15" font-size="6.1" text-anchor="end">−44</text>
<text x="399.23" y="159.6" font-size="6.1" text-anchor="middle">−22</text>
<text x="387.9" y="146.72" font-size="6.1" text-anchor="end">−22</text>
<text x="407.55" y="159.6" font-size="6.1" text-anchor="middle">0</text>
<text x="387.9" y="138.3" font-size="6.1" text-anchor="end">0</text>
<text x="415.88" y="159.6" font-size="6.1" text-anchor="middle">22</text>
<text x="387.9" y="129.88" font-size="6.1" text-anchor="end">22</text>
<text x="424.2" y="159.6" font-size="6.1" text-anchor="middle">44</text>
<text x="387.9" y="121.45" font-size="6.1" text-anchor="end">44</text>
<text x="407.25" y="166.1" font-size="5" text-anchor="middle">x-error(pixel)</text>
<text transform="translate(375 135.25) rotate(-90)" font-size="5.25" text-anchor="middle">y-error(pixel)</text>
<rect x="466.2" y="120.53" width="1.97" height="2.79" fill="#0a84bb"/>
<text class="q" x="469.67" y="123.77" font-size="6.5" textLength="13.12" lengthAdjust="spacingAndGlyphs">1.5%</text>
<text class="q" x="443.8" y="123.67" font-size="5.4" textLength="19.6" lengthAdjust="spacingAndGlyphs">28.7–34.2</text>
<path d="M466.2 121.92h-1" stroke="#444" stroke-width="0.4"/>
<rect x="466.2" y="126.1" width="3.69" height="2.79" fill="#0a84bb"/>
<text class="q" x="471.39" y="129.34" font-size="6.5" textLength="13.12" lengthAdjust="spacingAndGlyphs">2.8%</text>
<text class="q" x="443.8" y="129.24" font-size="5.4" textLength="19.6" lengthAdjust="spacingAndGlyphs">23.2–28.7</text>
<path d="M466.2 127.49h-1" stroke="#444" stroke-width="0.4"/>
<rect x="466.2" y="131.67" width="8.95" height="2.79" fill="#0a84bb"/>
<text class="q" x="476.65" y="134.91" font-size="6.5" textLength="13.12" lengthAdjust="spacingAndGlyphs">6.8%</text>
<text class="q" x="443.8" y="134.81" font-size="5.4" textLength="19.6" lengthAdjust="spacingAndGlyphs">17.6–23.2</text>
<path d="M466.2 133.06h-1" stroke="#444" stroke-width="0.4"/>
<rect x="466.2" y="137.24" width="16.32" height="2.79" fill="#0a84bb"/>
<text class="q" x="484.02" y="140.49" font-size="6.5" textLength="16.27" lengthAdjust="spacingAndGlyphs">12.4%</text>
<text class="q" x="443.8" y="140.39" font-size="5.4" textLength="19.6" lengthAdjust="spacingAndGlyphs">12.1–17.6</text>
<path d="M466.2 138.64h-1" stroke="#444" stroke-width="0.4"/>
<rect x="466.2" y="142.81" width="38.96" height="2.79" fill="#0a84bb"/>
<text class="q" x="506.66" y="146.06" font-size="6.5" textLength="16.27" lengthAdjust="spacingAndGlyphs">29.6%</text>
<text class="q" x="446.25" y="145.96" font-size="5.4" textLength="17.15" lengthAdjust="spacingAndGlyphs">6.5–12.1</text>
<path d="M466.2 144.21h-1" stroke="#444" stroke-width="0.4"/>
<rect x="466.2" y="148.38" width="61.2" height="2.79" fill="#0a84bb"/>
<text class="q" x="528.9" y="151.63" font-size="6.5" textLength="16.27" lengthAdjust="spacingAndGlyphs">46.5%</text>
<text class="q" x="448.7" y="151.53" font-size="5.4" textLength="14.7" lengthAdjust="spacingAndGlyphs">1.0–6.5</text>
<path d="M466.2 149.78h-1" stroke="#444" stroke-width="0.4"/>
<path d="M466.2 119V152.7" stroke="#444" stroke-width="0.5"/>
<text transform="translate(440.5 136.15) rotate(-90)" font-size="5.1" text-anchor="middle">RMSE(pixel)</text>
<text x="498.4" y="159.5" font-size="5.2" text-anchor="middle">number of points</text>
<path d="M33.83 173.8V207.5M25.5 182.22H58.8M42.15 173.8V207.5M25.5 190.65H58.8M50.47 173.8V207.5M25.5 199.07H58.8" stroke="#d9d9d9" stroke-width="0.45" fill="none"/>
<polygon points="31.95,180.05 35.54,179.41 40.67,179.67 45.79,179.15 49.64,179.41 54.13,178.77 55.41,180.69 54.77,185.18 52.85,187.1 53.49,190.95 52.85,194.79 50.28,198.64 47.72,200.56 44.51,201.85 41.95,200.56 41.31,197.36 40.67,193.51 38.74,190.95 34.9,190.31 32.97,188.38 32.33,184.54" fill="#31688e"/><circle cx="40.89" cy="184.09" r="1.46" fill="#482878"/><circle cx="45.51" cy="194.7" r="1.19" fill="#35b779"/><circle cx="49.11" cy="192.07" r="1.33" fill="#b5de2b"/><circle cx="51.64" cy="188.91" r="1.07" fill="#482878"/><circle cx="48.92" cy="182.63" r="1.31" fill="#6ece58"/><circle cx="51.68" cy="183.75" r="1.37" fill="#6ece58"/><circle cx="33.2" cy="186.1" r="1.3" fill="#6ece58"/><circle cx="51.81" cy="185.72" r="1.33" fill="#482878"/><circle cx="41.5" cy="194.08" r="1.2" fill="#1f9e89"/><circle cx="32.46" cy="181.88" r="1.36" fill="#1f9e89"/><circle cx="41.94" cy="195.95" r="1.44" fill="#35b779"/><circle cx="47.32" cy="186.2" r="1.03" fill="#482878"/><circle cx="47.33" cy="196.07" r="1.21" fill="#35b779"/><circle cx="37.62" cy="188.86" r="1.34" fill="#6ece58"/><circle cx="41.58" cy="189.15" r="1.14" fill="#fde725"/><circle cx="49.57" cy="195.66" r="1.08" fill="#3e4989"/><circle cx="32.68" cy="182.94" r="1.03" fill="#6ece58"/><circle cx="35.59" cy="186.36" r="1.34" fill="#3e4989"/><circle cx="46" cy="195.22" r="1.25" fill="#35b779"/><circle cx="51.23" cy="179.46" r="1.47" fill="#35b779"/><circle cx="46.92" cy="190.61" r="1.09" fill="#6ece58"/><circle cx="49.02" cy="196.85" r="1.25" fill="#440154"/><circle cx="45.91" cy="186.89" r="1.46" fill="#6ece58"/><circle cx="53.21" cy="185.87" r="1.43" fill="#482878"/><circle cx="46.31" cy="197.91" r="1.14" fill="#b5de2b"/><circle cx="45.73" cy="185.77" r="1.35" fill="#b5de2b"/><circle cx="37.56" cy="190.31" r="1.12" fill="#35b779"/><circle cx="36.23" cy="189.71" r="1.25" fill="#440154"/><circle cx="48.76" cy="195.11" r="1.38" fill="#440154"/><circle cx="39.51" cy="187.23" r="1.43" fill="#482878"/><circle cx="44" cy="182.2" r="1.27" fill="#6ece58"/><circle cx="49.93" cy="195.55" r="1.09" fill="#26828e"/><circle cx="44.31" cy="192.3" r="1.24" fill="#6ece58"/><circle cx="45.27" cy="195.4" r="1.09" fill="#482878"/><circle cx="43.31" cy="196.17" r="1.43" fill="#b5de2b"/><circle cx="42.25" cy="195.24" r="1.19" fill="#482878"/><circle cx="49.6" cy="187.36" r="1.04" fill="#b5de2b"/><circle cx="40.64" cy="186.86" r="1.09" fill="#b5de2b"/><circle cx="35.68" cy="180.83" r="1.16" fill="#b5de2b"/><circle cx="53.14" cy="185.99" r="1.1" fill="#b5de2b"/><circle cx="52.56" cy="194.74" r="1.46" fill="#b5de2b"/><circle cx="54.56" cy="185.13" r="1.39" fill="#b5de2b"/><circle cx="40.06" cy="182.65" r="1.24" fill="#b5de2b"/><circle cx="44.39" cy="199.23" r="1.13" fill="#1f9e89"/><circle cx="48.04" cy="191.05" r="1.35" fill="#3e4989"/><circle cx="53.16" cy="184.45" r="1.38" fill="#b5de2b"/><circle cx="44.21" cy="183.23" r="1.14" fill="#6ece58"/><circle cx="38.3" cy="180.9" r="1.5" fill="#b5de2b"/><circle cx="39.11" cy="188.11" r="1.38" fill="#35b779"/><circle cx="42.51" cy="193.89" r="1.1" fill="#440154"/><circle cx="38.9" cy="187.29" r="1.21" fill="#482878"/><circle cx="49.04" cy="193.41" r="1.04" fill="#1f9e89"/><circle cx="50.83" cy="194.67" r="1.48" fill="#b5de2b"/><circle cx="45.27" cy="189.2" r="1.14" fill="#26828e"/><circle cx="46.44" cy="180.76" r="1.45" fill="#fde725"/><circle cx="52.24" cy="191.17" r="1.24" fill="#26828e"/><circle cx="44.14" cy="190.56" r="1.14" fill="#6ece58"/><circle cx="38.27" cy="185" r="1.04" fill="#1f9e89"/><circle cx="44.24" cy="182.47" r="1.04" fill="#b5de2b"/><circle cx="50.77" cy="184.97" r="1.4" fill="#b5de2b"/><circle cx="54.36" cy="182.8" r="1.07" fill="#fde725"/><circle cx="43.54" cy="180.66" r="1.47" fill="#35b779"/><circle cx="50.29" cy="193.72" r="1.49" fill="#440154"/><circle cx="35.37" cy="185.67" r="1.37" fill="#fde725"/><circle cx="36.32" cy="189.33" r="1.13" fill="#35b779"/><circle cx="37.08" cy="180.7" r="1.21" fill="#1f9e89"/><circle cx="40.16" cy="189.84" r="1.19" fill="#31688e"/><circle cx="49.87" cy="182.19" r="1.22" fill="#482878"/><circle cx="38.74" cy="189.73" r="1.47" fill="#b5de2b"/><circle cx="37.36" cy="186.76" r="1.14" fill="#482878"/><circle cx="38.06" cy="184.3" r="1.47" fill="#31688e"/><circle cx="44.04" cy="199.53" r="1.37" fill="#1f9e89"/><circle cx="47.67" cy="192.44" r="1.3" fill="#fde725"/><circle cx="43.76" cy="184.06" r="1.21" fill="#482878"/><circle cx="41.48" cy="181.78" r="1.01" fill="#fde725"/><circle cx="42.3" cy="184.46" r="1.42" fill="#26828e"/><circle cx="48.65" cy="199.36" r="1.2" fill="#31688e"/><circle cx="42.12" cy="198.08" r="1.45" fill="#31688e"/><circle cx="46.75" cy="179.55" r="1.42" fill="#31688e"/><circle cx="41.38" cy="180.09" r="1.27" fill="#1f9e89"/><circle cx="42.96" cy="188.49" r="1.34" fill="#fde725"/><circle cx="42.37" cy="189.08" r="1.12" fill="#b5de2b"/><circle cx="43.26" cy="196.32" r="1.07" fill="#440154"/><circle cx="50.72" cy="194.04" r="1.02" fill="#6ece58"/><circle cx="40.49" cy="189.44" r="1.13" fill="#31688e"/><circle cx="40.66" cy="184.02" r="1.29" fill="#440154"/><circle cx="41.37" cy="197.47" r="1.23" fill="#6ece58"/><circle cx="48.93" cy="193.49" r="1.25" fill="#fde725"/><circle cx="41.24" cy="191.1" r="1.31" fill="#482878"/><circle cx="46.3" cy="194.57" r="1.36" fill="#482878"/><circle cx="49.9" cy="182.4" r="1.09" fill="#b5de2b"/><circle cx="53.78" cy="184.76" r="1.17" fill="#b5de2b"/><circle cx="51.14" cy="181.64" r="1.22" fill="#fde725"/><circle cx="37.49" cy="189.04" r="1.02" fill="#440154"/><circle cx="43.09" cy="192.53" r="1.26" fill="#fde725"/><circle cx="39.83" cy="184.8" r="1.46" fill="#440154"/><circle cx="48.36" cy="184.87" r="1.35" fill="#6ece58"/><circle cx="46.94" cy="189.2" r="1.46" fill="#b5de2b"/><circle cx="49.74" cy="183.05" r="1.32" fill="#1f9e89"/><circle cx="43.26" cy="180.34" r="1.13" fill="#440154"/><circle cx="47.82" cy="183.72" r="1.32" fill="#6ece58"/><circle cx="38.68" cy="190.82" r="1.02" fill="#b5de2b"/><circle cx="46.65" cy="196.13" r="1.17" fill="#fde725"/><circle cx="46.9" cy="197.37" r="1.39" fill="#31688e"/><circle cx="41.67" cy="181.29" r="1.34" fill="#1f9e89"/><circle cx="44.79" cy="198.51" r="1.31" fill="#b5de2b"/><circle cx="49.19" cy="186.24" r="1.44" fill="#35b779"/><circle cx="48.95" cy="186.5" r="1.34" fill="#fde725"/><circle cx="41.12" cy="196.21" r="1.41" fill="#b5de2b"/><circle cx="45.45" cy="199.74" r="1.39" fill="#1f9e89"/><circle cx="46.12" cy="185.48" r="1.41" fill="#1f9e89"/><circle cx="49.12" cy="196.95" r="1.35" fill="#1f9e89"/><circle cx="46.86" cy="188.35" r="1.28" fill="#440154"/><circle cx="48.14" cy="191.57" r="1.27" fill="#26828e"/><circle cx="33.5" cy="181.81" r="1.48" fill="#440154"/><circle cx="53.95" cy="183.6" r="1.24" fill="#6ece58"/><circle cx="34.54" cy="185.24" r="1.12" fill="#482878"/><circle cx="52.99" cy="190.16" r="1.07" fill="#35b779"/><circle cx="35.52" cy="181.2" r="1.29" fill="#6ece58"/><circle cx="49.35" cy="192.3" r="1.2" fill="#3e4989"/><circle cx="48.44" cy="197.98" r="1.48" fill="#6ece58"/><circle cx="52.91" cy="183.62" r="1.29" fill="#1f9e89"/><circle cx="37.21" cy="185.14" r="1.09" fill="#b5de2b"/><circle cx="51.46" cy="189.59" r="1.2" fill="#6ece58"/><circle cx="47.87" cy="195.03" r="1.15" fill="#26828e"/><circle cx="42.03" cy="195.97" r="1.1" fill="#440154"/><circle cx="43.88" cy="183.96" r="1.29" fill="#b5de2b"/><circle cx="52.83" cy="187.54" r="1.29" fill="#fde725"/><circle cx="40.07" cy="182.32" r="1.09" fill="#b5de2b"/><circle cx="48.4" cy="180.92" r="1.47" fill="#6ece58"/><circle cx="39.82" cy="191" r="1.12" fill="#26828e"/><circle cx="54.65" cy="181.7" r="1.27" fill="#440154"/><circle cx="39.23" cy="188.24" r="1.21" fill="#26828e"/><circle cx="51.18" cy="183.42" r="1.2" fill="#3e4989"/><circle cx="46.78" cy="197.79" r="1.09" fill="#b5de2b"/><circle cx="53.81" cy="182.81" r="1.43" fill="#b5de2b"/><circle cx="34.66" cy="187.51" r="1.23" fill="#3e4989"/><circle cx="50.3" cy="197.3" r="1.01" fill="#6ece58"/><circle cx="49.25" cy="196.38" r="1.08" fill="#482878"/><circle cx="43.43" cy="192.84" r="1.44" fill="#482878"/><circle cx="45.39" cy="200.18" r="1.2" fill="#fde725"/><circle cx="43.62" cy="192.62" r="1.49" fill="#6ece58"/><circle cx="44.03" cy="189.35" r="1.04" fill="#b5de2b"/><circle cx="42.23" cy="183.83" r="1.41" fill="#35b779"/><circle cx="41.94" cy="183.56" r="1.45" fill="#482878"/><circle cx="45.68" cy="200.36" r="1.14" fill="#3e4989"/><circle cx="45.12" cy="198.53" r="1.17" fill="#35b779"/><circle cx="39.27" cy="190.89" r="1.37" fill="#26828e"/><circle cx="43.22" cy="189.91" r="1.13" fill="#26828e"/><circle cx="36.87" cy="187.44" r="1.18" fill="#6ece58"/><circle cx="42.31" cy="191.79" r="1.19" fill="#3e4989"/><circle cx="42.32" cy="193.74" r="1.34" fill="#b5de2b"/><circle cx="41.71" cy="183.51" r="1.25" fill="#b5de2b"/><circle cx="39.14" cy="189.52" r="1.39" fill="#fde725"/><circle cx="51.26" cy="180.09" r="1.24" fill="#6ece58"/><circle cx="40.54" cy="180.64" r="1.19" fill="#26828e"/><circle cx="52.21" cy="189.01" r="1.28" fill="#482878"/><circle cx="39.93" cy="179.78" r="1.19" fill="#482878"/><circle cx="32.76" cy="181.8" r="1.27" fill="#fde725"/><circle cx="36.28" cy="179.73" r="1.16" fill="#31688e"/><circle cx="36.18" cy="185.82" r="1.54" fill="#440154"/><circle cx="43.23" cy="200.56" r="1.28" fill="#440154"/><circle cx="54.13" cy="180.05" r="1.15" fill="#fde725"/><circle cx="52.85" cy="184.54" r="1.03" fill="#440154"/><circle cx="42.72" cy="190.69" r="12.82" fill="none" stroke="#ee5a22" stroke-width="0.95"/>
<rect x="25.5" y="173.8" width="33.3" height="33.7" fill="none" stroke="#5a5a5a" stroke-width="0.5"/>
<path d="M25.5 207.5v1M25.5 207.5h-1M33.83 207.5v1M25.5 199.07h-1M42.15 207.5v1M25.5 190.65h-1M50.47 207.5v1M25.5 182.22h-1M58.8 207.5v1M25.5 173.8h-1" stroke="#444" stroke-width="0.4"/>
<text x="25.8" y="214.4" font-size="6.1" text-anchor="middle">−2</text>
<text x="22.8" y="209.95" font-size="6.1" text-anchor="end">−2</text>
<text x="34.12" y="214.4" font-size="6.1" text-anchor="middle">−1</text>
<text x="22.8" y="201.52" font-size="6.1" text-anchor="end">−1</text>
<text x="42.45" y="214.4" font-size="6.1" text-anchor="middle">0</text>
<text x="22.8" y="193.1" font-size="6.1" text-anchor="end">0</text>
<text x="50.77" y="214.4" font-size="6.1" text-anchor="middle">1</text>
<text x="22.8" y="184.67" font-size="6.1" text-anchor="end">1</text>
<text x="59.1" y="214.4" font-size="6.1" text-anchor="middle">2</text>
<text x="22.8" y="176.25" font-size="6.1" text-anchor="end">2</text>
<text x="42.15" y="220.9" font-size="5" text-anchor="middle">x-error(pixel)</text>
<text transform="translate(13.1 190.05) rotate(-90)" font-size="5.25" text-anchor="middle">y-error(pixel)</text>
<text transform="translate(8 190.65) rotate(-90)" font-size="5.4" text-anchor="middle">V05</text>
<rect x="101.1" y="175.33" width="0.15" height="2.79" fill="#0a84bb"/>
<text class="q" x="102.62" y="178.57" font-size="6.5" textLength="18.25" lengthAdjust="spacingAndGlyphs">< 0.1%</text>
<text class="q" x="83.6" y="178.47" font-size="5.4" textLength="14.7" lengthAdjust="spacingAndGlyphs">1.5–1.8</text>
<path d="M101.1 176.72h-1" stroke="#444" stroke-width="0.4"/>
<rect x="101.1" y="180.9" width="0.22" height="2.79" fill="#0a84bb"/>
<text class="q" x="102.82" y="184.14" font-size="6.5" textLength="13.12" lengthAdjust="spacingAndGlyphs">0.2%</text>
<text class="q" x="83.6" y="184.04" font-size="5.4" textLength="14.7" lengthAdjust="spacingAndGlyphs">1.2–1.5</text>
<path d="M101.1 182.29h-1" stroke="#444" stroke-width="0.4"/>
<rect x="101.1" y="186.47" width="1.72" height="2.79" fill="#0a84bb"/>
<text class="q" x="104.32" y="189.71" font-size="6.5" textLength="13.12" lengthAdjust="spacingAndGlyphs">1.6%</text>
<text class="q" x="83.6" y="189.61" font-size="5.4" textLength="14.7" lengthAdjust="spacingAndGlyphs">0.9–1.2</text>
<path d="M101.1 187.86h-1" stroke="#444" stroke-width="0.4"/>
<rect x="101.1" y="192.04" width="9.47" height="2.79" fill="#0a84bb"/>
<text class="q" x="112.07" y="195.29" font-size="6.5" textLength="13.12" lengthAdjust="spacingAndGlyphs">8.8%</text>
<text class="q" x="83.6" y="195.19" font-size="5.4" textLength="14.7" lengthAdjust="spacingAndGlyphs">0.6–0.9</text>
<path d="M101.1 193.44h-1" stroke="#444" stroke-width="0.4"/>
<rect x="101.1" y="197.61" width="34.63" height="2.79" fill="#0a84bb"/>
<text class="q" x="137.23" y="200.86" font-size="6.5" textLength="16.27" lengthAdjust="spacingAndGlyphs">32.2%</text>
<text class="q" x="83.6" y="200.76" font-size="5.4" textLength="14.7" lengthAdjust="spacingAndGlyphs">0.3–0.6</text>
<path d="M101.1 199.01h-1" stroke="#444" stroke-width="0.4"/>
<rect x="101.1" y="203.18" width="61.2" height="2.79" fill="#0a84bb"/>
<text class="q" x="163.8" y="206.43" font-size="6.5" textLength="16.27" lengthAdjust="spacingAndGlyphs">56.9%</text>
<text class="q" x="83.6" y="206.33" font-size="5.4" textLength="14.7" lengthAdjust="spacingAndGlyphs">0.0–0.3</text>
<path d="M101.1 204.58h-1" stroke="#444" stroke-width="0.4"/>
<path d="M101.1 173.8V207.5" stroke="#444" stroke-width="0.5"/>
<text transform="translate(80.3 190.95) rotate(-90)" font-size="5.1" text-anchor="middle">RMSE(pixel)</text>
<text x="133.3" y="214.3" font-size="5.2" text-anchor="middle">number of points</text>
<path d="M212.06 173.8V207.5M208.1 177.81H241.4M218.41 173.8V207.5M208.1 184.23H241.4M224.75 173.8V207.5M208.1 190.65H241.4M231.09 173.8V207.5M208.1 197.07H241.4M237.44 173.8V207.5M208.1 203.49H241.4" stroke="#d9d9d9" stroke-width="0.45" fill="none"/>
<polygon points="212.13,186.46 214.05,183.9 216.62,182.23 221.1,181.97 226.23,181.72 228.79,182.62 230.72,184.54 232.64,186.46 233.28,189.67 234.56,192.23 237.13,195.44 237.77,198 235.85,200.56 233.28,201.85 230.72,201.21 228.15,199.28 224.95,198 222.38,195.44 219.82,193.51 216.62,192.23 214.05,190.95 212.13,189.03" fill="#26828e"/><circle cx="219.18" cy="186.21" r="1.34" fill="#6ece58"/><circle cx="222.95" cy="182.32" r="1.25" fill="#31688e"/><circle cx="212.81" cy="185.72" r="1.27" fill="#35b779"/><circle cx="232.79" cy="195.77" r="1.08" fill="#26828e"/><circle cx="214.51" cy="183.66" r="1.3" fill="#b5de2b"/><circle cx="232.82" cy="196.41" r="1.49" fill="#1f9e89"/><circle cx="221.83" cy="192.83" r="1.31" fill="#b5de2b"/><circle cx="234.22" cy="193.34" r="1.02" fill="#6ece58"/><circle cx="217.97" cy="187.54" r="1.12" fill="#482878"/><circle cx="214.72" cy="187.31" r="1.18" fill="#35b779"/><circle cx="221.62" cy="185.93" r="1.47" fill="#31688e"/><circle cx="228.74" cy="193.98" r="1.36" fill="#3e4989"/><circle cx="216.32" cy="189.36" r="1.32" fill="#fde725"/><circle cx="226.41" cy="195.5" r="1.39" fill="#b5de2b"/><circle cx="218" cy="182.36" r="1.13" fill="#26828e"/><circle cx="228.93" cy="189.68" r="1.23" fill="#fde725"/><circle cx="218.92" cy="186.68" r="1.13" fill="#35b779"/><circle cx="222.37" cy="186.13" r="1.25" fill="#fde725"/><circle cx="232.44" cy="190.22" r="1.19" fill="#482878"/><circle cx="229.61" cy="192.53" r="1.32" fill="#31688e"/><circle cx="214.99" cy="190.47" r="1.48" fill="#1f9e89"/><circle cx="224.96" cy="185.31" r="1.44" fill="#fde725"/><circle cx="227.74" cy="184.79" r="1.27" fill="#6ece58"/><circle cx="232.09" cy="192.39" r="1.16" fill="#440154"/><circle cx="234.66" cy="198.46" r="1.03" fill="#26828e"/><circle cx="234.64" cy="200.78" r="1.24" fill="#482878"/><circle cx="224.31" cy="192.78" r="1.44" fill="#31688e"/><circle cx="222.98" cy="185.98" r="1.36" fill="#1f9e89"/><circle cx="217.29" cy="187.99" r="1.32" fill="#fde725"/><circle cx="223.36" cy="192.14" r="1.11" fill="#482878"/><circle cx="220.8" cy="193.56" r="1.11" fill="#31688e"/><circle cx="217.62" cy="184.38" r="1.29" fill="#fde725"/><circle cx="214.61" cy="190.39" r="1.23" fill="#1f9e89"/><circle cx="230.82" cy="195.27" r="1.05" fill="#fde725"/><circle cx="222.45" cy="188.55" r="1.12" fill="#b5de2b"/><circle cx="217.01" cy="190.75" r="1.14" fill="#1f9e89"/><circle cx="226.24" cy="182.74" r="1.42" fill="#fde725"/><circle cx="224.58" cy="186.02" r="1.03" fill="#26828e"/><circle cx="223.8" cy="190.23" r="1.5" fill="#fde725"/><circle cx="226.38" cy="196.18" r="1.15" fill="#3e4989"/><circle cx="226.03" cy="196.77" r="1.29" fill="#440154"/><circle cx="214.18" cy="185.46" r="1.34" fill="#35b779"/><circle cx="218.16" cy="184.13" r="1.12" fill="#b5de2b"/><circle cx="227.37" cy="194.18" r="1.29" fill="#1f9e89"/><circle cx="218.25" cy="189.68" r="1.15" fill="#35b779"/><circle cx="214.01" cy="186.01" r="1.47" fill="#31688e"/><circle cx="234.71" cy="199.42" r="1.08" fill="#26828e"/><circle cx="233.51" cy="195.88" r="1.49" fill="#35b779"/><circle cx="215.57" cy="184.04" r="1.28" fill="#482878"/><circle cx="230.53" cy="185.82" r="1.13" fill="#35b779"/><circle cx="222.99" cy="187.29" r="1.39" fill="#440154"/><circle cx="228.46" cy="186.99" r="1.28" fill="#6ece58"/><circle cx="223.09" cy="181.91" r="1.44" fill="#482878"/><circle cx="233.53" cy="193.44" r="1.06" fill="#3e4989"/><circle cx="232.54" cy="199.04" r="1.11" fill="#b5de2b"/><circle cx="218.53" cy="183.79" r="1.44" fill="#6ece58"/><circle cx="222.55" cy="194.21" r="1.46" fill="#3e4989"/><circle cx="232.92" cy="199.46" r="1.37" fill="#440154"/><circle cx="232.7" cy="199.11" r="1.13" fill="#6ece58"/><circle cx="234.49" cy="199" r="1.41" fill="#31688e"/><circle cx="223.93" cy="187.86" r="1.11" fill="#6ece58"/><circle cx="228.58" cy="189.76" r="1.27" fill="#fde725"/><circle cx="214.91" cy="190.46" r="1.16" fill="#6ece58"/><circle cx="227.67" cy="192.01" r="1.29" fill="#26828e"/><circle cx="225.93" cy="196.2" r="1.34" fill="#6ece58"/><circle cx="221.47" cy="183.13" r="1.17" fill="#35b779"/><circle cx="230.58" cy="187.76" r="1.2" fill="#26828e"/><circle cx="222.45" cy="187.67" r="1.21" fill="#482878"/><circle cx="236.24" cy="195.35" r="1.31" fill="#b5de2b"/><circle cx="219.84" cy="192.75" r="1.14" fill="#440154"/><circle cx="223.15" cy="193.39" r="1.23" fill="#35b779"/><circle cx="223.47" cy="186.02" r="1.45" fill="#1f9e89"/><circle cx="228.36" cy="188.46" r="1.38" fill="#b5de2b"/><circle cx="229.38" cy="186.24" r="1.01" fill="#3e4989"/><circle cx="218.41" cy="191.28" r="1.04" fill="#b5de2b"/><circle cx="222.75" cy="194.39" r="1.35" fill="#3e4989"/><circle cx="224.8" cy="186.63" r="1" fill="#35b779"/><circle cx="231.38" cy="197.22" r="1.21" fill="#482878"/><circle cx="225.41" cy="182.73" r="1.42" fill="#31688e"/><circle cx="234.99" cy="194.05" r="1.25" fill="#6ece58"/><circle cx="233.42" cy="192.75" r="1.37" fill="#b5de2b"/><circle cx="224.3" cy="186.94" r="1.32" fill="#31688e"/><circle cx="231.76" cy="192.21" r="1.14" fill="#35b779"/><circle cx="214.11" cy="187.47" r="1.16" fill="#31688e"/><circle cx="225.98" cy="184.5" r="1.35" fill="#31688e"/><circle cx="222.58" cy="192.64" r="1.1" fill="#26828e"/><circle cx="227.1" cy="195.72" r="1.38" fill="#b5de2b"/><circle cx="234.01" cy="200.91" r="1.37" fill="#1f9e89"/><circle cx="226.13" cy="193.86" r="1.11" fill="#31688e"/><circle cx="223.3" cy="182.3" r="1.34" fill="#26828e"/><circle cx="222.5" cy="185.04" r="1.06" fill="#1f9e89"/><circle cx="222.23" cy="193.08" r="1.32" fill="#440154"/><circle cx="215.61" cy="191.01" r="1.19" fill="#440154"/><circle cx="217.56" cy="188.3" r="1.19" fill="#6ece58"/><circle cx="231.41" cy="198.46" r="1.04" fill="#31688e"/><circle cx="228.8" cy="197.44" r="1.38" fill="#35b779"/><circle cx="226.59" cy="186.11" r="1.38" fill="#6ece58"/><circle cx="233.14" cy="201.14" r="1.01" fill="#482878"/><circle cx="229.84" cy="194.34" r="1.39" fill="#482878"/><circle cx="233.93" cy="193.8" r="1.49" fill="#482878"/><circle cx="232.2" cy="188.71" r="1.19" fill="#1f9e89"/><circle cx="225.1" cy="188.59" r="1.41" fill="#b5de2b"/><circle cx="228.43" cy="198.4" r="1.22" fill="#6ece58"/><circle cx="230.94" cy="201.15" r="1.4" fill="#31688e"/><circle cx="225.93" cy="191.45" r="1.37" fill="#1f9e89"/><circle cx="224.04" cy="194" r="1.01" fill="#26828e"/><circle cx="230.11" cy="187.28" r="1.47" fill="#440154"/><circle cx="224.66" cy="196.98" r="1.32" fill="#6ece58"/><circle cx="224.71" cy="197.68" r="1.11" fill="#482878"/><circle cx="229.87" cy="187.88" r="1.24" fill="#35b779"/><circle cx="225.74" cy="190.28" r="1.17" fill="#6ece58"/><circle cx="230.15" cy="187.17" r="1.06" fill="#31688e"/><circle cx="217.07" cy="184.12" r="1.38" fill="#1f9e89"/><circle cx="216.88" cy="186.07" r="1.36" fill="#1f9e89"/><circle cx="219.38" cy="183.74" r="1.11" fill="#3e4989"/><circle cx="225.82" cy="187.24" r="1.28" fill="#fde725"/><circle cx="230.01" cy="184.26" r="1.25" fill="#b5de2b"/><circle cx="234.51" cy="193.27" r="1.22" fill="#1f9e89"/><circle cx="216.86" cy="182.75" r="1.24" fill="#fde725"/><circle cx="233.21" cy="189.78" r="1.31" fill="#482878"/><circle cx="213.5" cy="184.72" r="1.15" fill="#35b779"/><circle cx="231.73" cy="193.92" r="1.11" fill="#6ece58"/><circle cx="225.53" cy="190.79" r="1.43" fill="#1f9e89"/><circle cx="228.05" cy="193.99" r="1.47" fill="#6ece58"/><circle cx="217.46" cy="185.97" r="1.08" fill="#35b779"/><circle cx="216.58" cy="183.23" r="1.23" fill="#440154"/><circle cx="227.35" cy="187.58" r="1.35" fill="#31688e"/><circle cx="230.15" cy="190.86" r="1.46" fill="#6ece58"/><circle cx="232.33" cy="194.3" r="1.47" fill="#35b779"/><circle cx="223.03" cy="192.68" r="1.45" fill="#35b779"/><circle cx="216.38" cy="187.91" r="1.28" fill="#6ece58"/><circle cx="219.53" cy="184.22" r="1.35" fill="#6ece58"/><circle cx="224.79" cy="183.34" r="1.22" fill="#440154"/><circle cx="220.39" cy="186.76" r="1.48" fill="#482878"/><circle cx="233.56" cy="193.3" r="1.5" fill="#fde725"/><circle cx="229.37" cy="187.14" r="1.38" fill="#440154"/><circle cx="224.19" cy="194.83" r="1.09" fill="#fde725"/><circle cx="227.14" cy="194.5" r="1.05" fill="#1f9e89"/><circle cx="221.05" cy="188.43" r="1.43" fill="#35b779"/><circle cx="232.99" cy="192.79" r="1.16" fill="#1f9e89"/><circle cx="222.49" cy="192.08" r="1.33" fill="#fde725"/><circle cx="226.04" cy="190.04" r="1.18" fill="#3e4989"/><circle cx="231.52" cy="194.31" r="1.1" fill="#6ece58"/><circle cx="223.36" cy="195.77" r="1.49" fill="#482878"/><circle cx="227.74" cy="186.53" r="1.28" fill="#3e4989"/><circle cx="226.29" cy="183.59" r="1.46" fill="#fde725"/><circle cx="223.96" cy="184.08" r="1.25" fill="#b5de2b"/><circle cx="230.5" cy="191.96" r="1.42" fill="#31688e"/><circle cx="226.26" cy="189.44" r="1.25" fill="#fde725"/><circle cx="234.68" cy="199.11" r="1.4" fill="#31688e"/><circle cx="226.23" cy="182.62" r="1.28" fill="#fde725"/><circle cx="231.36" cy="194.79" r="1.28" fill="#fde725"/><circle cx="236.49" cy="197.36" r="1.28" fill="#35b779"/><circle cx="224.95" cy="190.31" r="4.74" fill="none" stroke="#ee5a22" stroke-width="0.95"/>
<rect x="208.1" y="173.8" width="33.3" height="33.7" fill="none" stroke="#5a5a5a" stroke-width="0.5"/>
<path d="M212.06 207.5v1M208.1 203.49h-1M218.41 207.5v1M208.1 197.07h-1M224.75 207.5v1M208.1 190.65h-1M231.09 207.5v1M208.1 184.23h-1M237.44 207.5v1M208.1 177.81h-1" stroke="#444" stroke-width="0.4"/>
<text x="212.36" y="214.4" font-size="6.1" text-anchor="middle">−4</text>
<text x="205.4" y="205.94" font-size="6.1" text-anchor="end">−4</text>
<text x="218.71" y="214.4" font-size="6.1" text-anchor="middle">−2</text>
<text x="205.4" y="199.52" font-size="6.1" text-anchor="end">−2</text>
<text x="225.05" y="214.4" font-size="6.1" text-anchor="middle">0</text>
<text x="205.4" y="193.1" font-size="6.1" text-anchor="end">0</text>
<text x="231.39" y="214.4" font-size="6.1" text-anchor="middle">2</text>
<text x="205.4" y="186.68" font-size="6.1" text-anchor="end">2</text>
<text x="237.74" y="214.4" font-size="6.1" text-anchor="middle">4</text>
<text x="205.4" y="180.26" font-size="6.1" text-anchor="end">4</text>
<text x="224.75" y="220.9" font-size="5" text-anchor="middle">x-error(pixel)</text>
<text transform="translate(195.7 190.05) rotate(-90)" font-size="5.25" text-anchor="middle">y-error(pixel)</text>
<rect x="283.7" y="175.33" width="0.15" height="2.79" fill="#0a84bb"/>
<text class="q" x="285.29" y="178.57" font-size="6.5" textLength="13.12" lengthAdjust="spacingAndGlyphs">0.1%</text>
<text class="q" x="266.2" y="178.47" font-size="5.4" textLength="14.7" lengthAdjust="spacingAndGlyphs">3.6–4.3</text>
<path d="M283.7 176.72h-1" stroke="#444" stroke-width="0.4"/>
<rect x="283.7" y="180.9" width="0.36" height="2.79" fill="#0a84bb"/>
<text class="q" x="285.56" y="184.14" font-size="6.5" textLength="13.12" lengthAdjust="spacingAndGlyphs">0.4%</text>
<text class="q" x="266.2" y="184.04" font-size="5.4" textLength="14.7" lengthAdjust="spacingAndGlyphs">2.9–3.6</text>
<path d="M283.7 182.29h-1" stroke="#444" stroke-width="0.4"/>
<rect x="283.7" y="186.47" width="2.86" height="2.79" fill="#0a84bb"/>
<text class="q" x="288.06" y="189.71" font-size="6.5" textLength="13.12" lengthAdjust="spacingAndGlyphs">3.2%</text>
<text class="q" x="266.2" y="189.61" font-size="5.4" textLength="14.7" lengthAdjust="spacingAndGlyphs">2.1–2.9</text>
<path d="M283.7 187.86h-1" stroke="#444" stroke-width="0.4"/>
<rect x="283.7" y="192.04" width="8.77" height="2.79" fill="#0a84bb"/>
<text class="q" x="293.97" y="195.29" font-size="6.5" textLength="13.12" lengthAdjust="spacingAndGlyphs">9.8%</text>
<text class="q" x="266.2" y="195.19" font-size="5.4" textLength="14.7" lengthAdjust="spacingAndGlyphs">1.4–2.1</text>
<path d="M283.7 193.44h-1" stroke="#444" stroke-width="0.4"/>
<rect x="283.7" y="197.61" width="15.84" height="2.79" fill="#0a84bb"/>
<text class="q" x="301.04" y="200.86" font-size="6.5" textLength="16.27" lengthAdjust="spacingAndGlyphs">17.7%</text>
<text class="q" x="266.2" y="200.76" font-size="5.4" textLength="14.7" lengthAdjust="spacingAndGlyphs">0.7–1.4</text>
<path d="M283.7 199.01h-1" stroke="#444" stroke-width="0.4"/>
<rect x="283.7" y="203.18" width="61.2" height="2.79" fill="#0a84bb"/>
<text class="q" x="346.4" y="206.43" font-size="6.5" textLength="16.27" lengthAdjust="spacingAndGlyphs">68.4%</text>
<text class="q" x="266.2" y="206.33" font-size="5.4" textLength="14.7" lengthAdjust="spacingAndGlyphs">0.0–0.7</text>
<path d="M283.7 204.58h-1" stroke="#444" stroke-width="0.4"/>
<path d="M283.7 173.8V207.5" stroke="#444" stroke-width="0.5"/>
<text transform="translate(262.9 190.95) rotate(-90)" font-size="5.1" text-anchor="middle">RMSE(pixel)</text>
<text x="315.9" y="214.3" font-size="5.2" text-anchor="middle">number of points</text>
<path d="M398.93 173.8V207.5M390.6 182.22H423.9M407.25 173.8V207.5M390.6 190.65H423.9M415.58 173.8V207.5M390.6 199.07H423.9" stroke="#d9d9d9" stroke-width="0.45" fill="none"/>
<polygon points="403.1,187.74 405.03,186.46 407.59,186.85 410.15,188.38 412.72,189.03 415.92,189.67 418.49,190.95 419.77,192.87 419.13,194.79 416.56,195.44 414,196.08 411.44,195.44 409.51,193.51 406.95,192.87 404.38,192.23 402.85,190.31" fill="#26828e"/><circle cx="405.28" cy="190.91" r="1.4" fill="#35b779"/><circle cx="410.52" cy="191.25" r="1.22" fill="#440154"/><circle cx="412.1" cy="193.72" r="1.09" fill="#26828e"/><circle cx="417.25" cy="194.35" r="1.05" fill="#26828e"/><circle cx="411.52" cy="191.23" r="1.3" fill="#35b779"/><circle cx="411.42" cy="191.99" r="1.02" fill="#26828e"/><circle cx="417.89" cy="191.48" r="1.43" fill="#3e4989"/><circle cx="412.74" cy="195.43" r="1.05" fill="#35b779"/><circle cx="413.38" cy="194.03" r="1.17" fill="#6ece58"/><circle cx="411.8" cy="193.2" r="1.42" fill="#3e4989"/><circle cx="412.85" cy="190" r="1.3" fill="#31688e"/><circle cx="404.76" cy="191.22" r="1.48" fill="#35b779"/><circle cx="419.2" cy="192.25" r="1.06" fill="#3e4989"/><circle cx="404.69" cy="191.61" r="1.02" fill="#26828e"/><circle cx="418.14" cy="194.97" r="1.36" fill="#31688e"/><circle cx="414.74" cy="194.57" r="1.19" fill="#6ece58"/><circle cx="409.69" cy="193.05" r="1.13" fill="#1f9e89"/><circle cx="412.77" cy="195.24" r="1.17" fill="#31688e"/><circle cx="405.99" cy="188.17" r="1.35" fill="#6ece58"/><circle cx="419.18" cy="192.9" r="1.11" fill="#b5de2b"/><circle cx="406.02" cy="188.54" r="1.49" fill="#26828e"/><circle cx="406.65" cy="190.87" r="1.01" fill="#482878"/><circle cx="412.08" cy="192.36" r="1.46" fill="#1f9e89"/><circle cx="409.21" cy="189.62" r="1.07" fill="#31688e"/><circle cx="412.59" cy="193.12" r="1.02" fill="#31688e"/><circle cx="407.47" cy="192.69" r="1.35" fill="#482878"/><circle cx="405.25" cy="188.61" r="1.24" fill="#35b779"/><circle cx="414.16" cy="189.34" r="1.22" fill="#26828e"/><circle cx="418.28" cy="193.69" r="1.42" fill="#1f9e89"/><circle cx="413.17" cy="193.42" r="1.29" fill="#1f9e89"/><circle cx="413.66" cy="194.34" r="1.01" fill="#1f9e89"/><circle cx="414.69" cy="195.16" r="1.12" fill="#6ece58"/><circle cx="415.2" cy="191.43" r="1.24" fill="#31688e"/><circle cx="410.67" cy="189.32" r="1.22" fill="#26828e"/><circle cx="407.36" cy="187.8" r="1.18" fill="#35b779"/><circle cx="414.66" cy="190.76" r="1.4" fill="#31688e"/><circle cx="406.85" cy="190.91" r="1.5" fill="#26828e"/><circle cx="406.91" cy="192.17" r="1.02" fill="#1f9e89"/><circle cx="412.81" cy="193.35" r="1.13" fill="#6ece58"/><circle cx="411.3" cy="195.25" r="1.13" fill="#31688e"/><circle cx="417.77" cy="194.55" r="1.07" fill="#1f9e89"/><circle cx="409.5" cy="190.08" r="1.23" fill="#26828e"/><circle cx="410.81" cy="192.7" r="1.34" fill="#3e4989"/><circle cx="411.08" cy="194.33" r="1.33" fill="#31688e"/><circle cx="414.37" cy="191.69" r="1.48" fill="#26828e"/><circle cx="406.69" cy="189.41" r="0.9" fill="#c0392b"/><circle cx="405.03" cy="189.03" r="1.03" fill="#482878"/><circle cx="413.36" cy="192.23" r="1.28" fill="#35b779"/>
<rect x="390.6" y="173.8" width="33.3" height="33.7" fill="none" stroke="#5a5a5a" stroke-width="0.5"/>
<path d="M390.6 207.5v1M390.6 207.5h-1M398.93 207.5v1M390.6 199.07h-1M407.25 207.5v1M390.6 190.65h-1M415.58 207.5v1M390.6 182.22h-1M423.9 207.5v1M390.6 173.8h-1" stroke="#444" stroke-width="0.4"/>
<text x="390.9" y="214.4" font-size="6.1" text-anchor="middle">−58</text>
<text x="387.9" y="209.95" font-size="6.1" text-anchor="end">−58</text>
<text x="399.23" y="214.4" font-size="6.1" text-anchor="middle">−29</text>
<text x="387.9" y="201.52" font-size="6.1" text-anchor="end">−29</text>
<text x="407.55" y="214.4" font-size="6.1" text-anchor="middle">0</text>
<text x="387.9" y="193.1" font-size="6.1" text-anchor="end">0</text>
<text x="415.88" y="214.4" font-size="6.1" text-anchor="middle">29</text>
<text x="387.9" y="184.67" font-size="6.1" text-anchor="end">29</text>
<text x="424.2" y="214.4" font-size="6.1" text-anchor="middle">58</text>
<text x="387.9" y="176.25" font-size="6.1" text-anchor="end">58</text>
<text x="407.25" y="220.9" font-size="5" text-anchor="middle">x-error(pixel)</text>
<text transform="translate(375 190.05) rotate(-90)" font-size="5.25" text-anchor="middle">y-error(pixel)</text>
<rect x="466.2" y="175.33" width="1.34" height="2.79" fill="#0a84bb"/>
<text class="q" x="469.04" y="178.57" font-size="6.5" textLength="13.12" lengthAdjust="spacingAndGlyphs">1.4%</text>
<text class="q" x="443.8" y="178.47" font-size="5.4" textLength="19.6" lengthAdjust="spacingAndGlyphs">33.7–40.5</text>
<path d="M466.2 176.72h-1" stroke="#444" stroke-width="0.4"/>
<rect x="466.2" y="180.9" width="3.35" height="2.79" fill="#0a84bb"/>
<text class="q" x="471.05" y="184.14" font-size="6.5" textLength="13.12" lengthAdjust="spacingAndGlyphs">3.5%</text>
<text class="q" x="443.8" y="184.04" font-size="5.4" textLength="19.6" lengthAdjust="spacingAndGlyphs">27.0–33.7</text>
<path d="M466.2 182.29h-1" stroke="#444" stroke-width="0.4"/>
<rect x="466.2" y="186.47" width="4.78" height="2.79" fill="#0a84bb"/>
<text class="q" x="472.48" y="189.71" font-size="6.5" textLength="13.12" lengthAdjust="spacingAndGlyphs">5.0%</text>
<text class="q" x="443.8" y="189.61" font-size="5.4" textLength="19.6" lengthAdjust="spacingAndGlyphs">20.2–27.0</text>
<path d="M466.2 187.86h-1" stroke="#444" stroke-width="0.4"/>
<rect x="466.2" y="192.04" width="2.29" height="2.79" fill="#0a84bb"/>
<text class="q" x="470" y="195.29" font-size="6.5" textLength="13.12" lengthAdjust="spacingAndGlyphs">2.4%</text>
<text class="q" x="443.8" y="195.19" font-size="5.4" textLength="19.6" lengthAdjust="spacingAndGlyphs">13.5–20.2</text>
<path d="M466.2 193.44h-1" stroke="#444" stroke-width="0.4"/>
<rect x="466.2" y="197.61" width="22.47" height="2.79" fill="#0a84bb"/>
<text class="q" x="490.17" y="200.86" font-size="6.5" textLength="16.27" lengthAdjust="spacingAndGlyphs">23.5%</text>
<text class="q" x="446.25" y="200.76" font-size="5.4" textLength="17.15" lengthAdjust="spacingAndGlyphs">6.7–13.5</text>
<path d="M466.2 199.01h-1" stroke="#444" stroke-width="0.4"/>
<rect x="466.2" y="203.18" width="61.2" height="2.79" fill="#0a84bb"/>
<text class="q" x="528.9" y="206.43" font-size="6.5" textLength="16.27" lengthAdjust="spacingAndGlyphs">64.0%</text>
<text class="q" x="448.7" y="206.33" font-size="5.4" textLength="14.7" lengthAdjust="spacingAndGlyphs">0.0–6.7</text>
<path d="M466.2 204.58h-1" stroke="#444" stroke-width="0.4"/>
<path d="M466.2 173.8V207.5" stroke="#444" stroke-width="0.5"/>
<text transform="translate(440.5 190.95) rotate(-90)" font-size="5.1" text-anchor="middle">RMSE(pixel)</text>
<text x="498.4" y="214.3" font-size="5.2" text-anchor="middle">number of points</text>
<path d="M33.83 228.6V262.3M25.5 237.03H58.8M42.15 228.6V262.3M25.5 245.45H58.8M50.47 228.6V262.3M25.5 253.88H58.8" stroke="#d9d9d9" stroke-width="0.45" fill="none"/>
<polygon points="38.1,241.1 40.67,239.18 42.59,236.62 43.87,232.77 45.79,231.49 47.72,232.77 48.36,235.97 47.72,239.82 47.08,243.67 46.44,247.51 44.51,251.36 43.87,254.56 41.95,255.85 40.67,253.92 41.31,250.08 39.38,247.51 38.1,244.95" fill="#1f9e89"/><circle cx="40.6" cy="243.72" r="1.41" fill="#3e4989"/><circle cx="40.48" cy="244.94" r="1.2" fill="#b5de2b"/><circle cx="43.72" cy="246.81" r="1.18" fill="#35b779"/><circle cx="43" cy="251.33" r="1.31" fill="#31688e"/><circle cx="41.87" cy="250.63" r="1.38" fill="#b5de2b"/><circle cx="42.6" cy="251.88" r="1.45" fill="#1f9e89"/><circle cx="44.18" cy="235.75" r="1.23" fill="#fde725"/><circle cx="38.27" cy="242.07" r="1.1" fill="#1f9e89"/><circle cx="47.95" cy="234.22" r="1.27" fill="#b5de2b"/><circle cx="39.93" cy="240.21" r="1.06" fill="#1f9e89"/><circle cx="45.93" cy="247.36" r="1.41" fill="#fde725"/><circle cx="43.63" cy="244.24" r="1.46" fill="#6ece58"/><circle cx="38.38" cy="241.73" r="1.29" fill="#3e4989"/><circle cx="44.05" cy="245.15" r="1.11" fill="#b5de2b"/><circle cx="45.58" cy="245.77" r="1.49" fill="#31688e"/><circle cx="38.65" cy="242.81" r="1.3" fill="#35b779"/><circle cx="47.2" cy="238.66" r="1.07" fill="#1f9e89"/><circle cx="44.66" cy="241.77" r="1.06" fill="#6ece58"/><circle cx="42.86" cy="254.84" r="1.33" fill="#440154"/><circle cx="45.05" cy="249.17" r="1.25" fill="#35b779"/><circle cx="47.94" cy="238.39" r="1.33" fill="#6ece58"/><circle cx="45.57" cy="243.13" r="1.39" fill="#440154"/><circle cx="42.23" cy="252.37" r="1.16" fill="#1f9e89"/><circle cx="43.96" cy="247.4" r="1.28" fill="#6ece58"/><circle cx="42.29" cy="249.58" r="1.3" fill="#26828e"/><circle cx="47" cy="236.74" r="1.03" fill="#1f9e89"/><circle cx="45.95" cy="239.49" r="1.14" fill="#482878"/><circle cx="38.84" cy="243.28" r="1.39" fill="#35b779"/><circle cx="40.91" cy="249.47" r="1.3" fill="#b5de2b"/><circle cx="42.57" cy="249.28" r="1.05" fill="#6ece58"/><circle cx="43.93" cy="247.16" r="1.31" fill="#b5de2b"/><circle cx="44.41" cy="250.21" r="1.43" fill="#3e4989"/><circle cx="44.06" cy="246.98" r="1.26" fill="#3e4989"/><circle cx="43.3" cy="245.26" r="1.33" fill="#b5de2b"/><circle cx="44.29" cy="243.98" r="1.41" fill="#fde725"/><circle cx="41.76" cy="250.85" r="1.24" fill="#fde725"/><circle cx="48.03" cy="236.55" r="1.1" fill="#6ece58"/><circle cx="46.47" cy="233.72" r="1.4" fill="#1f9e89"/><circle cx="43.49" cy="250.59" r="1.07" fill="#26828e"/><circle cx="40.01" cy="243.04" r="1.04" fill="#6ece58"/><circle cx="45.91" cy="248.1" r="1.19" fill="#35b779"/><circle cx="38.43" cy="243.76" r="1.34" fill="#1f9e89"/><circle cx="38.29" cy="243.34" r="1.27" fill="#482878"/><circle cx="42.58" cy="239.54" r="1.46" fill="#31688e"/><circle cx="44.03" cy="250.08" r="1.45" fill="#1f9e89"/><circle cx="38.37" cy="241.29" r="1.08" fill="#1f9e89"/><circle cx="43.23" cy="247.76" r="1.38" fill="#6ece58"/><circle cx="45.77" cy="238.79" r="1.25" fill="#35b779"/><circle cx="45.88" cy="234.45" r="1.36" fill="#31688e"/><circle cx="45.53" cy="237.08" r="1.39" fill="#6ece58"/><circle cx="44.73" cy="242.73" r="1.12" fill="#482878"/><circle cx="41.68" cy="254.39" r="1.47" fill="#31688e"/><circle cx="40.13" cy="242.05" r="1.33" fill="#1f9e89"/><circle cx="41.73" cy="249.3" r="1.11" fill="#440154"/><circle cx="39.07" cy="243.1" r="1.12" fill="#440154"/><circle cx="40.92" cy="241.47" r="1.33" fill="#31688e"/><circle cx="42.93" cy="244.9" r="1.46" fill="#b5de2b"/><circle cx="40.85" cy="249.18" r="1.01" fill="#26828e"/><circle cx="46.83" cy="236.13" r="1.36" fill="#26828e"/><circle cx="46.82" cy="240.95" r="1.2" fill="#6ece58"/><circle cx="44.77" cy="232.13" r="1.28" fill="#35b779"/><circle cx="45.79" cy="235.97" r="1.28" fill="#3e4989"/><circle cx="39.38" cy="242.64" r="1.15" fill="#fde725"/><circle cx="43.23" cy="245.59" r="1.28" fill="#440154"/><circle cx="41.95" cy="253.92" r="1.15" fill="#6ece58"/><circle cx="41.95" cy="244.95" r="6.28" fill="none" stroke="#ee5a22" stroke-width="0.95"/>
<rect x="25.5" y="228.6" width="33.3" height="33.7" fill="none" stroke="#5a5a5a" stroke-width="0.5"/>
<path d="M25.5 262.3v1M25.5 262.3h-1M33.83 262.3v1M25.5 253.88h-1M42.15 262.3v1M25.5 245.45h-1M50.47 262.3v1M25.5 237.03h-1M58.8 262.3v1M25.5 228.6h-1" stroke="#444" stroke-width="0.4"/>
<text x="25.8" y="269.2" font-size="6.1" text-anchor="middle">−4</text>
<text x="22.8" y="264.75" font-size="6.1" text-anchor="end">−4</text>
<text x="34.12" y="269.2" font-size="6.1" text-anchor="middle">−2</text>
<text x="22.8" y="256.32" font-size="6.1" text-anchor="end">−2</text>
<text x="42.45" y="269.2" font-size="6.1" text-anchor="middle">0</text>
<text x="22.8" y="247.9" font-size="6.1" text-anchor="end">0</text>
<text x="50.77" y="269.2" font-size="6.1" text-anchor="middle">2</text>
<text x="22.8" y="239.47" font-size="6.1" text-anchor="end">2</text>
<text x="59.1" y="269.2" font-size="6.1" text-anchor="middle">4</text>
<text x="22.8" y="231.05" font-size="6.1" text-anchor="end">4</text>
<text x="42.15" y="275.7" font-size="5" text-anchor="middle">x-error(pixel)</text>
<text transform="translate(13.1 244.85) rotate(-90)" font-size="5.25" text-anchor="middle">y-error(pixel)</text>
<text transform="translate(8 245.45) rotate(-90)" font-size="5.4" text-anchor="middle">V21</text>
<rect x="101.1" y="230.13" width="0.15" height="2.79" fill="#0a84bb"/>
<text class="q" x="102.68" y="233.37" font-size="6.5" textLength="13.12" lengthAdjust="spacingAndGlyphs">0.1%</text>
<text class="q" x="83.6" y="233.27" font-size="5.4" textLength="14.7" lengthAdjust="spacingAndGlyphs">2.6–3.1</text>
<path d="M101.1 231.52h-1" stroke="#444" stroke-width="0.4"/>
<rect x="101.1" y="235.7" width="0.15" height="2.79" fill="#0a84bb"/>
<text class="q" x="102.75" y="238.94" font-size="6.5" textLength="13.12" lengthAdjust="spacingAndGlyphs">0.2%</text>
<text class="q" x="83.6" y="238.84" font-size="5.4" textLength="14.7" lengthAdjust="spacingAndGlyphs">2.1–2.6</text>
<path d="M101.1 237.09h-1" stroke="#444" stroke-width="0.4"/>
<rect x="101.1" y="241.27" width="0.46" height="2.79" fill="#0a84bb"/>
<text class="q" x="103.06" y="244.51" font-size="6.5" textLength="13.12" lengthAdjust="spacingAndGlyphs">0.6%</text>
<text class="q" x="83.6" y="244.41" font-size="5.4" textLength="14.7" lengthAdjust="spacingAndGlyphs">1.5–2.1</text>
<path d="M101.1 242.66h-1" stroke="#444" stroke-width="0.4"/>
<rect x="101.1" y="246.84" width="3.79" height="2.79" fill="#0a84bb"/>
<text class="q" x="106.39" y="250.09" font-size="6.5" textLength="13.12" lengthAdjust="spacingAndGlyphs">4.9%</text>
<text class="q" x="83.6" y="249.99" font-size="5.4" textLength="14.7" lengthAdjust="spacingAndGlyphs">1.0–1.5</text>
<path d="M101.1 248.24h-1" stroke="#444" stroke-width="0.4"/>
<rect x="101.1" y="252.41" width="11.44" height="2.79" fill="#0a84bb"/>
<text class="q" x="114.04" y="255.66" font-size="6.5" textLength="16.27" lengthAdjust="spacingAndGlyphs">14.8%</text>
<text class="q" x="83.6" y="255.56" font-size="5.4" textLength="14.7" lengthAdjust="spacingAndGlyphs">0.5–1.0</text>
<path d="M101.1 253.81h-1" stroke="#444" stroke-width="0.4"/>
<rect x="101.1" y="257.98" width="61.2" height="2.79" fill="#0a84bb"/>
<text class="q" x="163.8" y="261.23" font-size="6.5" textLength="16.27" lengthAdjust="spacingAndGlyphs">79.2%</text>
<text class="q" x="83.6" y="261.13" font-size="5.4" textLength="14.7" lengthAdjust="spacingAndGlyphs">0.0–0.5</text>
<path d="M101.1 259.38h-1" stroke="#444" stroke-width="0.4"/>
<path d="M101.1 228.6V262.3" stroke="#444" stroke-width="0.5"/>
<text transform="translate(80.3 245.75) rotate(-90)" font-size="5.1" text-anchor="middle">RMSE(pixel)</text>
<text x="133.3" y="269.1" font-size="5.2" text-anchor="middle">number of points</text>
<path d="M216.42 228.6V262.3M208.1 237.03H241.4M224.75 228.6V262.3M208.1 245.45H241.4M233.07 228.6V262.3M208.1 253.88H241.4" stroke="#d9d9d9" stroke-width="0.45" fill="none"/>
<polygon points="218.54,239.18 219.82,237.9 222.38,237.9 224.95,239.18 226.23,241.74 227.51,244.95 228.15,248.15 227.51,251.36 226.87,254.56 226.23,257.13 224.31,257.77 223.03,255.85 223.03,252 222.38,248.79 221.1,245.59 219.18,243.03 218.28,241.1" fill="#1f9e89"/><circle cx="225.45" cy="247.51" r="1.2" fill="#b5de2b"/><circle cx="222.1" cy="238.12" r="1.09" fill="#482878"/><circle cx="220.56" cy="243.35" r="1.21" fill="#6ece58"/><circle cx="223.97" cy="251.23" r="1.27" fill="#6ece58"/><circle cx="223.52" cy="241.47" r="1.09" fill="#3e4989"/><circle cx="225.17" cy="254.04" r="1.21" fill="#35b779"/><circle cx="224.75" cy="248.42" r="1.09" fill="#1f9e89"/><circle cx="219.5" cy="241.47" r="1.3" fill="#3e4989"/><circle cx="222.52" cy="248.78" r="1.39" fill="#6ece58"/><circle cx="226.7" cy="254.19" r="1.48" fill="#1f9e89"/><circle cx="226.3" cy="242.65" r="1.42" fill="#35b779"/><circle cx="225.71" cy="255.77" r="1.34" fill="#1f9e89"/><circle cx="227.19" cy="245.28" r="1.02" fill="#482878"/><circle cx="223.38" cy="241" r="1.3" fill="#6ece58"/><circle cx="223.22" cy="251.23" r="1.23" fill="#3e4989"/><circle cx="221.48" cy="242.04" r="1.42" fill="#31688e"/><circle cx="221.19" cy="241.25" r="1.04" fill="#26828e"/><circle cx="221.51" cy="241.57" r="1.13" fill="#b5de2b"/><circle cx="226.13" cy="251.49" r="1.32" fill="#1f9e89"/><circle cx="224.02" cy="254.62" r="1.13" fill="#35b779"/><circle cx="224.75" cy="247.98" r="1.06" fill="#b5de2b"/><circle cx="227.17" cy="250" r="1.39" fill="#482878"/><circle cx="226.35" cy="244.12" r="1.06" fill="#31688e"/><circle cx="221.67" cy="239.93" r="1.41" fill="#35b779"/><circle cx="226.1" cy="253.36" r="1.27" fill="#31688e"/><circle cx="225.02" cy="248.24" r="1.46" fill="#fde725"/><circle cx="224" cy="243.18" r="1.39" fill="#31688e"/><circle cx="222.45" cy="240.96" r="1.16" fill="#fde725"/><circle cx="223.08" cy="255.54" r="1.4" fill="#b5de2b"/><circle cx="224.71" cy="240.09" r="1.15" fill="#fde725"/><circle cx="223.56" cy="253.21" r="1.46" fill="#1f9e89"/><circle cx="226.04" cy="250.75" r="1.32" fill="#26828e"/><circle cx="223.23" cy="252.97" r="1.4" fill="#26828e"/><circle cx="225.32" cy="241.45" r="1.24" fill="#b5de2b"/><circle cx="222.64" cy="244.6" r="1.4" fill="#26828e"/><circle cx="227.39" cy="247.23" r="1.23" fill="#1f9e89"/><circle cx="222.43" cy="238.43" r="1.15" fill="#31688e"/><circle cx="226.04" cy="241.44" r="1.45" fill="#3e4989"/><circle cx="223.6" cy="244.42" r="1.47" fill="#fde725"/><circle cx="224.07" cy="240.02" r="1.02" fill="#1f9e89"/><circle cx="224.68" cy="244.34" r="1.43" fill="#1f9e89"/><circle cx="224.48" cy="253.6" r="1.32" fill="#1f9e89"/><circle cx="223.76" cy="239.35" r="1.13" fill="#1f9e89"/><circle cx="227.4" cy="250.47" r="1.37" fill="#26828e"/><circle cx="225.32" cy="248.28" r="1.08" fill="#1f9e89"/><circle cx="219.91" cy="238.76" r="1.13" fill="#1f9e89"/><circle cx="224.01" cy="247.2" r="1.38" fill="#26828e"/><circle cx="223.45" cy="250.61" r="1.01" fill="#440154"/><circle cx="218.43" cy="240.24" r="1.36" fill="#3e4989"/><circle cx="225.83" cy="246.01" r="1.22" fill="#31688e"/><circle cx="219.42" cy="242.78" r="1.45" fill="#1f9e89"/><circle cx="224.07" cy="256.7" r="1.29" fill="#31688e"/><circle cx="224.51" cy="256.98" r="1.23" fill="#6ece58"/><circle cx="224.13" cy="241.96" r="1.12" fill="#6ece58"/><circle cx="224.84" cy="240.72" r="1.4" fill="#6ece58"/><circle cx="220.7" cy="243.18" r="1.28" fill="#3e4989"/><circle cx="225.4" cy="247.66" r="1.08" fill="#1f9e89"/><circle cx="219.06" cy="242.37" r="1.25" fill="#1f9e89"/><circle cx="228" cy="247.54" r="1.47" fill="#fde725"/><circle cx="225.69" cy="243.81" r="1.47" fill="#1f9e89"/><circle cx="224.31" cy="256.49" r="1.41" fill="#1f9e89"/><circle cx="219.82" cy="239.18" r="1.28" fill="#35b779"/><circle cx="224.31" cy="244.95" r="1.67" fill="#f5a623"/><circle cx="224.31" cy="244.95" r="0.9" fill="#f0683a"/>
<rect x="208.1" y="228.6" width="33.3" height="33.7" fill="none" stroke="#5a5a5a" stroke-width="0.5"/>
<path d="M208.1 262.3v1M208.1 262.3h-1M216.42 262.3v1M208.1 253.88h-1M224.75 262.3v1M208.1 245.45h-1M233.07 262.3v1M208.1 237.03h-1M241.4 262.3v1M208.1 228.6h-1" stroke="#444" stroke-width="0.4"/>
<text x="208.4" y="269.2" font-size="6.1" text-anchor="middle">−14</text>
<text x="205.4" y="264.75" font-size="6.1" text-anchor="end">−14</text>
<text x="216.72" y="269.2" font-size="6.1" text-anchor="middle">−7</text>
<text x="205.4" y="256.32" font-size="6.1" text-anchor="end">−7</text>
<text x="225.05" y="269.2" font-size="6.1" text-anchor="middle">0</text>
<text x="205.4" y="247.9" font-size="6.1" text-anchor="end">0</text>
<text x="233.38" y="269.2" font-size="6.1" text-anchor="middle">7</text>
<text x="205.4" y="239.47" font-size="6.1" text-anchor="end">7</text>
<text x="241.7" y="269.2" font-size="6.1" text-anchor="middle">14</text>
<text x="205.4" y="231.05" font-size="6.1" text-anchor="end">14</text>
<text x="224.75" y="275.7" font-size="5" text-anchor="middle">x-error(pixel)</text>
<text transform="translate(192.5 244.85) rotate(-90)" font-size="5.25" text-anchor="middle">y-error(pixel)</text>
<rect x="283.7" y="230.13" width="0.15" height="2.79" fill="#0a84bb"/>
<text class="q" x="285.22" y="233.37" font-size="6.5" textLength="18.25" lengthAdjust="spacingAndGlyphs">< 0.1%</text>
<text class="q" x="266.2" y="233.27" font-size="5.4" textLength="14.7" lengthAdjust="spacingAndGlyphs">7.9–9.4</text>
<path d="M283.7 231.52h-1" stroke="#444" stroke-width="0.4"/>
<rect x="283.7" y="235.7" width="0.16" height="2.79" fill="#0a84bb"/>
<text class="q" x="285.36" y="238.94" font-size="6.5" textLength="13.12" lengthAdjust="spacingAndGlyphs">0.2%</text>
<text class="q" x="266.2" y="238.84" font-size="5.4" textLength="14.7" lengthAdjust="spacingAndGlyphs">6.3–7.9</text>
<path d="M283.7 237.09h-1" stroke="#444" stroke-width="0.4"/>
<rect x="283.7" y="241.27" width="0.96" height="2.79" fill="#0a84bb"/>
<text class="q" x="286.16" y="244.51" font-size="6.5" textLength="13.12" lengthAdjust="spacingAndGlyphs">1.2%</text>
<text class="q" x="266.2" y="244.41" font-size="5.4" textLength="14.7" lengthAdjust="spacingAndGlyphs">4.7–6.3</text>
<path d="M283.7 242.66h-1" stroke="#444" stroke-width="0.4"/>
<rect x="283.7" y="246.84" width="4.86" height="2.79" fill="#0a84bb"/>
<text class="q" x="290.06" y="250.09" font-size="6.5" textLength="13.12" lengthAdjust="spacingAndGlyphs">6.1%</text>
<text class="q" x="266.2" y="249.99" font-size="5.4" textLength="14.7" lengthAdjust="spacingAndGlyphs">3.1–4.7</text>
<path d="M283.7 248.24h-1" stroke="#444" stroke-width="0.4"/>
<rect x="283.7" y="252.41" width="12.19" height="2.79" fill="#0a84bb"/>
<text class="q" x="297.39" y="255.66" font-size="6.5" textLength="16.27" lengthAdjust="spacingAndGlyphs">15.3%</text>
<text class="q" x="266.2" y="255.56" font-size="5.4" textLength="14.7" lengthAdjust="spacingAndGlyphs">1.5–3.1</text>
<path d="M283.7 253.81h-1" stroke="#444" stroke-width="0.4"/>
<rect x="283.7" y="257.98" width="61.2" height="2.79" fill="#0a84bb"/>
<text class="q" x="346.4" y="261.23" font-size="6.5" textLength="16.27" lengthAdjust="spacingAndGlyphs">76.8%</text>
<text class="q" x="266.2" y="261.13" font-size="5.4" textLength="14.7" lengthAdjust="spacingAndGlyphs">0.0–1.5</text>
<path d="M283.7 259.38h-1" stroke="#444" stroke-width="0.4"/>
<path d="M283.7 228.6V262.3" stroke="#444" stroke-width="0.5"/>
<text transform="translate(262.9 245.75) rotate(-90)" font-size="5.1" text-anchor="middle">RMSE(pixel)</text>
<text x="315.9" y="269.1" font-size="5.2" text-anchor="middle">number of points</text>
<path d="M398.93 228.6V262.3M390.6 237.03H423.9M407.25 228.6V262.3M390.6 245.45H423.9M415.58 228.6V262.3M390.6 253.88H423.9" stroke="#d9d9d9" stroke-width="0.45" fill="none"/>
<polygon points="401.82,241.74 403.1,239.82 405.67,239.18 407.59,237.26 408.87,234.69 410.79,233.67 412.08,234.69 411.44,237.9 410.15,241.1 413.36,242.38 416.56,243.67 419.13,244.95 419.77,246.87 417.85,247.51 414.64,247.51 412.08,247.51 412.08,250.72 411.44,253.28 409.51,253.92 406.95,253.28 405.67,250.72 405.67,247.51 403.74,245.59 401.82,243.67" fill="#1f9e89"/><circle cx="410.01" cy="248.08" r="1.26" fill="#b5de2b"/><circle cx="408.29" cy="242.6" r="1.07" fill="#31688e"/><circle cx="410.93" cy="246.77" r="1.33" fill="#26828e"/><circle cx="409.71" cy="238.67" r="1.38" fill="#6ece58"/><circle cx="409.85" cy="250.38" r="1.17" fill="#31688e"/><circle cx="402.75" cy="243.35" r="1.16" fill="#1f9e89"/><circle cx="406.04" cy="241.45" r="1.46" fill="#3e4989"/><circle cx="405.4" cy="244.51" r="1.33" fill="#35b779"/><circle cx="410.33" cy="244.26" r="1.09" fill="#b5de2b"/><circle cx="405.42" cy="239.79" r="1.21" fill="#6ece58"/><circle cx="408.82" cy="235.24" r="1.33" fill="#3e4989"/><circle cx="405.93" cy="242.99" r="1.16" fill="#31688e"/><circle cx="413.02" cy="243.52" r="1.42" fill="#31688e"/><circle cx="407.6" cy="241.99" r="1.44" fill="#3e4989"/><circle cx="406.23" cy="245.09" r="1.27" fill="#6ece58"/><circle cx="408.57" cy="238.94" r="1.13" fill="#6ece58"/><circle cx="418.38" cy="247.27" r="1.08" fill="#35b779"/><circle cx="411.37" cy="242.41" r="1.38" fill="#b5de2b"/><circle cx="409.56" cy="244.44" r="1.33" fill="#1f9e89"/><circle cx="413.3" cy="247.03" r="1.4" fill="#31688e"/><circle cx="408.64" cy="245.36" r="1.42" fill="#482878"/><circle cx="411.73" cy="250.25" r="1.33" fill="#35b779"/><circle cx="410.35" cy="244.22" r="1.05" fill="#26828e"/><circle cx="415.79" cy="247.15" r="1.39" fill="#440154"/><circle cx="409.11" cy="239.54" r="1.27" fill="#3e4989"/><circle cx="407.32" cy="243.32" r="1.12" fill="#35b779"/><circle cx="407.1" cy="237.92" r="1.23" fill="#35b779"/><circle cx="409.93" cy="242.32" r="1.3" fill="#35b779"/><circle cx="410.36" cy="244.71" r="1.35" fill="#1f9e89"/><circle cx="410.54" cy="236.35" r="1.16" fill="#35b779"/><circle cx="407.9" cy="245.5" r="1.2" fill="#b5de2b"/><circle cx="409.04" cy="246.61" r="1.4" fill="#b5de2b"/><circle cx="408.37" cy="239.96" r="1.38" fill="#35b779"/><circle cx="410.19" cy="250.42" r="1.14" fill="#1f9e89"/><circle cx="408.23" cy="246.06" r="1.09" fill="#26828e"/><circle cx="407.72" cy="239.25" r="1.41" fill="#6ece58"/><circle cx="410.42" cy="252.76" r="1.34" fill="#1f9e89"/><circle cx="410.96" cy="252.34" r="1.33" fill="#1f9e89"/><circle cx="403.94" cy="241.22" r="1.26" fill="#482878"/><circle cx="410.46" cy="247.48" r="1.47" fill="#26828e"/><circle cx="403.17" cy="240.94" r="1.48" fill="#fde725"/><circle cx="410.7" cy="237.22" r="1.2" fill="#26828e"/><circle cx="408.26" cy="242.44" r="1.44" fill="#26828e"/><circle cx="408.59" cy="253.5" r="1.46" fill="#b5de2b"/><circle cx="411.31" cy="250.97" r="1.17" fill="#3e4989"/><circle cx="416.33" cy="246.08" r="1.06" fill="#26828e"/><circle cx="418.22" cy="246.63" r="1.08" fill="#31688e"/><circle cx="410.63" cy="245.55" r="1.07" fill="#482878"/><circle cx="418.05" cy="247.33" r="1.28" fill="#b5de2b"/><circle cx="417.69" cy="247.34" r="1.2" fill="#1f9e89"/><circle cx="410.4" cy="235.81" r="1.27" fill="#b5de2b"/><circle cx="409.73" cy="244.71" r="1.12" fill="#35b779"/><circle cx="402.79" cy="243.85" r="1.25" fill="#3e4989"/><circle cx="404.29" cy="246.04" r="1.08" fill="#35b779"/><circle cx="410.75" cy="241.59" r="1.17" fill="#6ece58"/><circle cx="412.13" cy="243.18" r="1.48" fill="#31688e"/><circle cx="407.53" cy="251.83" r="1.22" fill="#35b779"/><circle cx="408.68" cy="238.79" r="1.15" fill="#3e4989"/><circle cx="410.69" cy="243.16" r="1.01" fill="#26828e"/><circle cx="415.18" cy="244.13" r="1.23" fill="#35b779"/><circle cx="409.13" cy="246.17" r="1.38" fill="#b5de2b"/><circle cx="415.88" cy="247.17" r="1.17" fill="#440154"/><circle cx="403.52" cy="244.26" r="1.43" fill="#fde725"/><circle cx="404.02" cy="241.8" r="1.17" fill="#fde725"/><circle cx="411.64" cy="236.15" r="1.46" fill="#b5de2b"/><circle cx="409.37" cy="235.8" r="1.32" fill="#26828e"/><circle cx="409.07" cy="236.97" r="1.17" fill="#26828e"/><circle cx="410.27" cy="240.16" r="1.12" fill="#482878"/><circle cx="414.53" cy="244.69" r="1.47" fill="#35b779"/><circle cx="407.42" cy="246.71" r="1.3" fill="#31688e"/><circle cx="411.01" cy="234.02" r="1.27" fill="#6ece58"/><circle cx="408.99" cy="238.72" r="1.08" fill="#fde725"/><circle cx="405.28" cy="242.9" r="1.44" fill="#31688e"/><circle cx="410.54" cy="248.39" r="1.45" fill="#6ece58"/><circle cx="409.75" cy="253.15" r="1.44" fill="#35b779"/><circle cx="408.42" cy="240.37" r="1.38" fill="#35b779"/><circle cx="410.46" cy="234.02" r="1.27" fill="#6ece58"/><circle cx="414.92" cy="246.27" r="1.36" fill="#440154"/><circle cx="419.41" cy="246.53" r="1.19" fill="#6ece58"/><circle cx="408.69" cy="238.06" r="1.38" fill="#1f9e89"/><circle cx="410.15" cy="234.95" r="1.41" fill="#3e4989"/><circle cx="406.95" cy="243.03" r="1.28" fill="#440154"/><circle cx="408.23" cy="245.97" r="1.28" fill="#fde725"/><circle cx="417.21" cy="245.97" r="1.28" fill="#3e4989"/><circle cx="404.38" cy="241.74" r="1.15" fill="#35b779"/><circle cx="409.51" cy="252.64" r="1.15" fill="#fde725"/><circle cx="407.59" cy="244.95" r="0.77" fill="#e8442a"/>
<rect x="390.6" y="228.6" width="33.3" height="33.7" fill="none" stroke="#5a5a5a" stroke-width="0.5"/>
<path d="M390.6 262.3v1M390.6 262.3h-1M398.93 262.3v1M390.6 253.88h-1M407.25 262.3v1M390.6 245.45h-1M415.58 262.3v1M390.6 237.03h-1M423.9 262.3v1M390.6 228.6h-1" stroke="#444" stroke-width="0.4"/>
<text x="390.9" y="269.2" font-size="6.1" text-anchor="middle">−48</text>
<text x="387.9" y="264.75" font-size="6.1" text-anchor="end">−48</text>
<text x="399.23" y="269.2" font-size="6.1" text-anchor="middle">−24</text>
<text x="387.9" y="256.32" font-size="6.1" text-anchor="end">−24</text>
<text x="407.55" y="269.2" font-size="6.1" text-anchor="middle">0</text>
<text x="387.9" y="247.9" font-size="6.1" text-anchor="end">0</text>
<text x="415.88" y="269.2" font-size="6.1" text-anchor="middle">24</text>
<text x="387.9" y="239.47" font-size="6.1" text-anchor="end">24</text>
<text x="424.2" y="269.2" font-size="6.1" text-anchor="middle">48</text>
<text x="387.9" y="231.05" font-size="6.1" text-anchor="end">48</text>
<text x="407.25" y="275.7" font-size="5" text-anchor="middle">x-error(pixel)</text>
<text transform="translate(375 244.85) rotate(-90)" font-size="5.25" text-anchor="middle">y-error(pixel)</text>
<rect x="466.2" y="230.13" width="1.3" height="2.79" fill="#0a84bb"/>
<text class="q" x="469" y="233.37" font-size="6.5" textLength="13.12" lengthAdjust="spacingAndGlyphs">1.1%</text>
<text class="q" x="443.8" y="233.27" font-size="5.4" textLength="19.6" lengthAdjust="spacingAndGlyphs">27.2–32.5</text>
<path d="M466.2 231.52h-1" stroke="#444" stroke-width="0.4"/>
<rect x="466.2" y="235.7" width="6.5" height="2.79" fill="#0a84bb"/>
<text class="q" x="474.2" y="238.94" font-size="6.5" textLength="13.12" lengthAdjust="spacingAndGlyphs">5.5%</text>
<text class="q" x="443.8" y="238.84" font-size="5.4" textLength="19.6" lengthAdjust="spacingAndGlyphs">21.8–27.2</text>
<path d="M466.2 237.09h-1" stroke="#444" stroke-width="0.4"/>
<rect x="466.2" y="241.27" width="5.67" height="2.79" fill="#0a84bb"/>
<text class="q" x="473.37" y="244.51" font-size="6.5" textLength="13.12" lengthAdjust="spacingAndGlyphs">4.8%</text>
<text class="q" x="443.8" y="244.41" font-size="5.4" textLength="19.6" lengthAdjust="spacingAndGlyphs">16.5–21.8</text>
<path d="M466.2 242.66h-1" stroke="#444" stroke-width="0.4"/>
<rect x="466.2" y="246.84" width="9.81" height="2.79" fill="#0a84bb"/>
<text class="q" x="477.51" y="250.09" font-size="6.5" textLength="13.12" lengthAdjust="spacingAndGlyphs">8.3%</text>
<text class="q" x="443.98" y="249.99" font-size="5.4" textLength="19.42" lengthAdjust="spacingAndGlyphs">11.2–16.5</text>
<path d="M466.2 248.24h-1" stroke="#444" stroke-width="0.4"/>
<rect x="466.2" y="252.41" width="33.32" height="2.79" fill="#0a84bb"/>
<text class="q" x="501.02" y="255.66" font-size="6.5" textLength="16.27" lengthAdjust="spacingAndGlyphs">28.2%</text>
<text class="q" x="446.43" y="255.56" font-size="5.4" textLength="16.97" lengthAdjust="spacingAndGlyphs">5.9–11.2</text>
<path d="M466.2 253.81h-1" stroke="#444" stroke-width="0.4"/>
<rect x="466.2" y="257.98" width="61.2" height="2.79" fill="#0a84bb"/>
<text class="q" x="528.9" y="261.23" font-size="6.5" textLength="16.27" lengthAdjust="spacingAndGlyphs">51.8%</text>
<text class="q" x="448.7" y="261.13" font-size="5.4" textLength="14.7" lengthAdjust="spacingAndGlyphs">0.6–5.9</text>
<path d="M466.2 259.38h-1" stroke="#444" stroke-width="0.4"/>
<path d="M466.2 228.6V262.3" stroke="#444" stroke-width="0.5"/>
<text transform="translate(440.5 245.75) rotate(-90)" font-size="5.1" text-anchor="middle">RMSE(pixel)</text>
<text x="498.4" y="269.1" font-size="5.2" text-anchor="middle">number of points</text>
</svg></body></html>
